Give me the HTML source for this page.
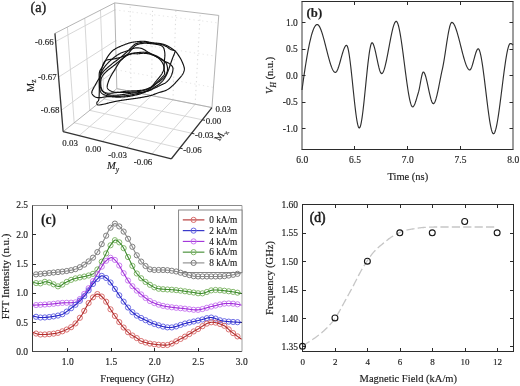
<!DOCTYPE html>
<html><head><meta charset="utf-8"><style>
html,body{margin:0;padding:0;background:#fff;}
svg{display:block;filter:blur(0.3px);}
text{font-family:'Liberation Serif','Times New Roman',serif;stroke:#1e1e1e;stroke-width:0.16px;}
</style></head><body>
<svg width="520" height="386" viewBox="0 0 520 386">
<rect width="520" height="386" fill="#fff"/>
<path d="M302.00,89.98L302.42,86.85L302.85,83.76L303.27,80.72L303.69,77.74L304.11,74.82L304.54,71.95L304.96,69.15L305.38,66.41L305.81,63.73L306.23,61.13L306.65,58.59L307.07,56.13L307.50,53.73L307.92,51.42L308.34,49.19L308.77,47.03L309.19,44.96L309.61,42.98L310.03,41.09L310.46,39.28L310.88,37.57L311.30,35.95L311.73,34.43L312.15,33.01L312.57,31.69L312.99,30.47L313.42,29.36L313.84,28.36L314.26,27.47L314.69,26.69L315.11,26.03L315.53,25.48L315.95,25.05L316.38,24.75L316.80,24.57L317.22,24.51L317.65,24.60L318.07,24.84L318.49,25.21L318.91,25.72L319.34,26.36L319.76,27.12L320.18,27.99L320.61,28.96L321.03,30.03L321.45,31.19L321.87,32.43L322.30,33.75L322.72,35.14L323.14,36.58L323.57,38.08L323.99,39.63L324.41,41.22L324.83,42.84L325.26,44.48L325.68,46.14L326.10,47.81L326.53,49.49L326.95,51.16L327.37,52.81L327.79,54.45L328.22,56.06L328.64,57.64L329.06,59.18L329.48,60.67L329.91,62.10L330.33,63.47L330.75,64.78L331.18,66.00L331.60,67.14L332.02,68.19L332.44,69.14L332.87,69.98L333.29,70.71L333.71,71.32L334.14,71.80L334.56,72.14L334.98,72.35L335.40,72.40L335.83,72.25L336.25,71.89L336.67,71.34L337.10,70.60L337.52,69.71L337.94,68.68L338.36,67.52L338.79,66.26L339.21,64.91L339.63,63.48L340.06,62.01L340.48,60.49L340.90,58.96L341.32,57.43L341.75,55.91L342.17,54.42L342.59,52.99L343.02,51.63L343.44,50.35L343.86,49.18L344.28,48.13L344.71,47.22L345.13,46.47L345.55,45.89L345.98,45.50L346.40,45.32L346.82,45.45L347.24,46.08L347.67,47.20L348.09,48.76L348.51,50.73L348.94,53.07L349.36,55.76L349.78,58.74L350.20,61.99L350.63,65.48L351.05,69.15L351.47,72.99L351.90,76.95L352.32,80.99L352.74,85.08L353.16,89.19L353.59,93.27L354.01,97.30L354.43,101.23L354.86,105.03L355.28,108.67L355.70,112.10L356.12,115.29L356.55,118.21L356.97,120.82L357.39,123.08L357.82,124.96L358.24,126.42L358.66,127.42L359.08,127.94L359.51,127.92L359.93,127.37L360.35,126.32L360.78,124.79L361.20,122.84L361.62,120.49L362.04,117.79L362.47,114.77L362.89,111.46L363.31,107.92L363.74,104.16L364.16,100.24L364.58,96.18L365.00,92.03L365.43,87.82L365.85,83.58L366.27,79.37L366.70,75.20L367.12,71.13L367.54,67.18L367.96,63.40L368.39,59.82L368.81,56.48L369.23,53.42L369.66,50.66L370.08,48.26L370.50,46.25L370.92,44.66L371.35,43.53L371.77,42.90L372.19,42.80L372.62,43.09L373.04,43.69L373.46,44.58L373.88,45.72L374.31,47.08L374.73,48.64L375.15,50.35L375.58,52.19L376.00,54.13L376.42,56.13L376.84,58.16L377.27,60.19L377.69,62.19L378.11,64.13L378.54,65.97L378.96,67.69L379.38,69.25L379.80,70.63L380.23,71.78L380.65,72.68L381.07,73.29L381.49,73.59L381.92,73.56L382.34,73.28L382.76,72.75L383.19,72.00L383.61,71.04L384.03,69.88L384.45,68.55L384.88,67.06L385.30,65.41L385.72,63.64L386.15,61.75L386.57,59.76L386.99,57.68L387.41,55.53L387.84,53.33L388.26,51.09L388.68,48.82L389.11,46.54L389.53,44.27L389.95,42.02L390.37,39.81L390.80,37.65L391.22,35.56L391.64,33.55L392.07,31.64L392.49,29.85L392.91,28.18L393.33,26.66L393.76,25.30L394.18,24.11L394.60,23.12L395.03,22.33L395.45,21.76L395.87,21.43L396.29,21.35L396.72,21.58L397.14,22.13L397.56,22.98L397.99,24.11L398.41,25.51L398.83,27.16L399.25,29.04L399.68,31.13L400.10,33.41L400.52,35.88L400.95,38.51L401.37,41.28L401.79,44.17L402.21,47.18L402.64,50.28L403.06,53.45L403.48,56.68L403.91,59.95L404.33,63.24L404.75,66.54L405.17,69.82L405.60,73.07L406.02,76.27L406.44,79.41L406.87,82.47L407.29,85.43L407.71,88.27L408.13,90.97L408.56,93.53L408.98,95.91L409.40,98.11L409.83,100.10L410.25,101.87L410.67,103.40L411.09,104.68L411.52,105.68L411.94,106.39L412.36,106.79L412.79,106.87L413.21,106.67L413.63,106.22L414.05,105.56L414.48,104.72L414.90,103.70L415.32,102.56L415.75,101.30L416.17,99.96L416.59,98.56L417.01,97.12L417.44,95.68L417.86,94.26L418.28,92.89L418.71,91.42L419.13,89.60L419.55,87.50L419.97,85.23L420.40,82.87L420.82,80.52L421.24,78.28L421.67,76.25L422.09,74.51L422.51,73.16L422.93,72.31L423.36,72.03L423.78,72.22L424.20,72.72L424.63,73.49L425.05,74.52L425.47,75.77L425.89,77.21L426.32,78.81L426.74,80.56L427.16,82.41L427.59,84.34L428.01,86.32L428.43,88.32L428.85,90.32L429.28,92.28L429.70,94.18L430.12,95.98L430.55,97.67L430.97,99.20L431.39,100.56L431.81,101.71L432.24,102.63L432.66,103.28L433.08,103.65L433.51,103.69L433.93,103.45L434.35,102.95L434.77,102.21L435.20,101.24L435.62,100.07L436.04,98.72L436.46,97.20L436.89,95.54L437.31,93.74L437.73,91.84L438.16,89.84L438.58,87.78L439.00,85.66L439.42,83.51L439.85,81.35L440.27,79.18L440.69,77.04L441.12,74.95L441.54,72.91L441.96,70.95L442.38,69.09L442.81,67.12L443.23,64.94L443.65,62.60L444.08,60.10L444.50,57.49L444.92,54.80L445.34,52.04L445.77,49.24L446.19,46.45L446.61,43.67L447.04,40.95L447.46,38.30L447.88,35.77L448.30,33.37L448.73,31.13L449.15,29.08L449.57,27.26L450.00,25.68L450.42,24.38L450.84,23.38L451.26,22.72L451.69,22.42L452.11,22.44L452.53,22.63L452.96,22.96L453.38,23.43L453.80,24.03L454.22,24.75L454.65,25.59L455.07,26.54L455.49,27.59L455.92,28.73L456.34,29.96L456.76,31.27L457.18,32.64L457.61,34.09L458.03,35.58L458.45,37.13L458.88,38.72L459.30,40.34L459.72,41.98L460.14,43.65L460.57,45.32L460.99,47.00L461.41,48.68L461.84,50.35L462.26,51.99L462.68,53.61L463.10,55.20L463.53,56.75L463.95,58.24L464.37,59.68L464.80,61.06L465.22,62.37L465.64,63.59L466.06,64.74L466.49,65.79L466.91,66.73L467.33,67.57L467.76,68.30L468.18,68.90L468.60,69.36L469.02,69.70L469.45,69.88L469.87,69.91L470.29,69.66L470.72,69.15L471.14,68.38L471.56,67.41L471.98,66.25L472.41,64.94L472.83,63.52L473.25,62.01L473.68,60.45L474.10,58.86L474.52,57.28L474.94,55.75L475.37,54.29L475.79,52.94L476.21,51.72L476.64,50.67L477.06,49.83L477.48,49.22L477.90,48.87L478.33,48.82L478.75,49.14L479.17,49.82L479.60,50.83L480.02,52.17L480.44,53.80L480.86,55.71L481.29,57.87L481.71,60.26L482.13,62.86L482.56,65.65L482.98,68.61L483.40,71.71L483.82,74.93L484.25,78.26L484.67,81.67L485.09,85.14L485.52,88.65L485.94,92.17L486.36,95.69L486.78,99.18L487.21,102.62L487.63,106.00L488.05,109.28L488.47,112.44L488.90,115.48L489.32,118.36L489.74,121.06L490.17,123.56L490.59,125.84L491.01,127.87L491.43,129.65L491.86,131.13L492.28,132.32L492.70,133.17L493.13,133.67L493.55,133.80L493.97,133.58L494.39,133.05L494.82,132.20L495.24,131.07L495.66,129.68L496.09,128.03L496.51,126.14L496.93,124.04L497.35,121.73L497.78,119.25L498.20,116.59L498.62,113.79L499.05,110.85L499.47,107.79L499.89,104.64L500.31,101.41L500.74,98.11L501.16,94.76L501.58,91.39L502.01,87.99L502.43,84.61L502.85,81.24L503.27,77.91L503.70,74.63L504.12,71.43L504.54,68.31L504.97,65.30L505.39,62.42L505.81,59.67L506.23,57.08L506.66,54.66L507.08,52.43L507.50,50.42L507.93,48.62L508.35,47.07L508.77,45.77L509.19,44.76L509.62,44.03L510.04,43.62L510.46,43.52L510.89,43.57L511.31,43.68L511.73,43.88L512.15,44.17L512.58,44.58L513.00,45.10" fill="none" stroke="#2e2e2e" stroke-width="1.15" stroke-linejoin="round"/>
<path d="M301.50,1.50H513.50" stroke="#2b2b2b" stroke-width="1.0" fill="none"/>
<path d="M301.50,149.50H513.50" stroke="#2b2b2b" stroke-width="1.0" fill="none"/>
<path d="M302.00,1.50V149.50" stroke="#3a3a3a" stroke-width="1.0" fill="none"/>
<path d="M513.00,1.50V149.50" stroke="#3a3a3a" stroke-width="1.0" fill="none"/>
<path d="M354.50,149.5v-3.5 M354.50,1.5v3.5 M407.50,149.5v-3.5 M407.50,1.5v3.5 M460.50,149.5v-3.5 M460.50,1.5v3.5 M302.0,128.50h3.5 M513.0,128.50h-3.5 M302.0,102.50h3.5 M513.0,102.50h-3.5 M302.0,75.50h3.5 M513.0,75.50h-3.5 M302.0,49.50h3.5 M513.0,49.50h-3.5 M302.0,22.50h3.5 M513.0,22.50h-3.5" stroke="#2b2b2b" stroke-width="1" fill="none"/>
<text x="302.30" y="162.80" font-size="9.5" text-anchor="middle" fill="#1e1e1e" >6.0</text>
<text x="355.05" y="162.80" font-size="9.5" text-anchor="middle" fill="#1e1e1e" >6.5</text>
<text x="407.80" y="162.80" font-size="9.5" text-anchor="middle" fill="#1e1e1e" >7.0</text>
<text x="460.55" y="162.80" font-size="9.5" text-anchor="middle" fill="#1e1e1e" >7.5</text>
<text x="513.30" y="162.80" font-size="9.5" text-anchor="middle" fill="#1e1e1e" >8.0</text>
<text x="297.80" y="26.00" font-size="9.5" text-anchor="end" fill="#1e1e1e" >1.0</text>
<text x="297.80" y="52.40" font-size="9.5" text-anchor="end" fill="#1e1e1e" >0.5</text>
<text x="297.80" y="78.80" font-size="9.5" text-anchor="end" fill="#1e1e1e" >0.0</text>
<text x="297.80" y="105.20" font-size="9.5" text-anchor="end" fill="#1e1e1e" >-0.5</text>
<text x="297.80" y="131.60" font-size="9.5" text-anchor="end" fill="#1e1e1e" >-1.0</text>
<text x="407.80" y="179.80" font-size="10.5" text-anchor="middle" fill="#1e1e1e" >Time (ns)</text>
<text transform="translate(273.2,75.4) rotate(-90)" font-size="10.5" text-anchor="middle" fill="#1e1e1e"><tspan font-style="italic">V</tspan><tspan font-style="italic" font-size="7.5" dy="2.5">H</tspan><tspan dy="-2.5"> (n.u.)</tspan></text>
<text x="306.60" y="16.50" font-size="12.8" text-anchor="start" font-weight="bold" fill="#1e1e1e" >(b)</text>
<path d="M302.50,345.73L303.15,345.37L303.80,345.00L304.45,344.62L305.10,344.24L305.75,343.85L306.41,343.46L307.06,343.06L307.71,342.66L308.36,342.25L309.01,341.84L309.66,341.42L310.31,341.00L310.96,340.57L311.61,340.14L312.26,339.70L312.92,339.26L313.57,338.82L314.22,338.37L314.87,337.92L315.52,337.47L316.17,337.00L316.82,336.54L317.47,336.06L318.12,335.57L318.77,335.08L319.43,334.57L320.08,334.06L320.73,333.53L321.38,332.99L322.03,332.43L322.68,331.86L323.33,331.29L323.98,330.69L324.63,330.09L325.28,329.47L325.93,328.84L326.59,328.20L327.24,327.54L327.89,326.87L328.54,326.19L329.19,325.50L329.84,324.79L330.49,324.08L331.14,323.34L331.79,322.58L332.44,321.80L333.10,320.99L333.75,320.14L334.40,319.27L335.05,318.35L335.70,317.40L336.35,316.40L337.00,315.36L337.65,314.29L338.30,313.18L338.95,312.06L339.61,310.90L340.26,309.73L340.91,308.55L341.56,307.35L342.21,306.14L342.86,304.93L343.51,303.72L344.16,302.52L344.81,301.32L345.46,300.13L346.11,298.96L346.77,297.79L347.42,296.61L348.07,295.43L348.72,294.24L349.37,293.05L350.02,291.86L350.67,290.66L351.32,289.45L351.97,288.25L352.62,287.04L353.28,285.82L353.93,284.58L354.58,283.31L355.23,282.04L355.88,280.76L356.53,279.47L357.18,278.18L357.83,276.90L358.48,275.64L359.13,274.38L359.79,273.15L360.44,271.95L361.09,270.77L361.74,269.63L362.39,268.53L363.04,267.46L363.69,266.39L364.34,265.33L364.99,264.29L365.64,263.25L366.30,262.23L366.95,261.23L367.60,260.25L368.25,259.28L368.90,258.34L369.55,257.41L370.20,256.51L370.85,255.64L371.50,254.79L372.15,253.97L372.80,253.18L373.46,252.42L374.11,251.69L374.76,250.98L375.41,250.30L376.06,249.63L376.71,248.99L377.36,248.36L378.01,247.75L378.66,247.16L379.31,246.57L379.97,245.99L380.62,245.44L381.27,244.90L381.92,244.39L382.57,243.88L383.22,243.37L383.87,242.85L384.52,242.33L385.17,241.79L385.82,241.25L386.48,240.71L387.13,240.17L387.78,239.64L388.43,239.13L389.08,238.64L389.73,238.17L390.38,237.73L391.03,237.32L391.68,236.92L392.33,236.53L392.98,236.14L393.64,235.75L394.29,235.38L394.94,235.00L395.59,234.64L396.24,234.28L396.89,233.93L397.54,233.58L398.19,233.25L398.84,232.93L399.49,232.62L400.15,232.32L400.80,232.03L401.45,231.76L402.10,231.49L402.75,231.25L403.40,231.02L404.05,230.80L404.70,230.60L405.35,230.42L406.00,230.25L406.66,230.09L407.31,229.94L407.96,229.80L408.61,229.67L409.26,229.55L409.91,229.43L410.56,229.31L411.21,229.20L411.86,229.09L412.51,228.99L413.16,228.88L413.82,228.78L414.47,228.67L415.12,228.56L415.77,228.46L416.42,228.35L417.07,228.25L417.72,228.15L418.37,228.05L419.02,227.96L419.67,227.87L420.33,227.79L420.98,227.71L421.63,227.64L422.28,227.58L422.93,227.52L423.58,227.48L424.23,227.44L424.88,227.40L425.53,227.36L426.18,227.32L426.84,227.28L427.49,227.24L428.14,227.21L428.79,227.18L429.44,227.15L430.09,227.12L430.74,227.09L431.39,227.07L432.04,227.05L432.69,227.04L433.34,227.03L434.00,227.02L434.65,227.02L435.30,227.02L435.95,227.02L436.60,227.02L437.25,227.02L437.90,227.02L438.55,227.02L439.20,227.02L439.85,227.02L440.51,227.02L441.16,227.02L441.81,227.02L442.46,227.02L443.11,227.02L443.76,227.02L444.41,227.02L445.06,227.02L445.71,227.02L446.36,227.02L447.02,227.02L447.67,227.02L448.32,227.02L448.97,227.02L449.62,227.02L450.27,227.02L450.92,227.02L451.57,227.02L452.22,227.02L452.87,227.02L453.53,227.02L454.18,227.02L454.83,227.02L455.48,227.02L456.13,227.02L456.78,227.02L457.43,227.02L458.08,227.02L458.73,227.02L459.38,227.02L460.03,227.02L460.69,227.02L461.34,227.02L461.99,227.02L462.64,227.02L463.29,227.02L463.94,227.02L464.59,227.02L465.24,227.02L465.89,227.02L466.54,227.02L467.20,227.02L467.85,227.02L468.50,227.02L469.15,227.02L469.80,227.02L470.45,227.02L471.10,227.02L471.75,227.02L472.40,227.02L473.05,227.02L473.71,227.02L474.36,227.02L475.01,227.02L475.66,227.02L476.31,227.02L476.96,227.02L477.61,227.02L478.26,227.02L478.91,227.02L479.56,227.02L480.21,227.02L480.87,227.02L481.52,227.02L482.17,227.02L482.82,227.02L483.47,227.02L484.12,227.02L484.77,227.02L485.42,227.02L486.07,227.02L486.72,227.02L487.38,227.02L488.03,227.02L488.68,227.02L489.33,227.02L489.98,227.02L490.63,227.02L491.28,227.02L491.93,227.02L492.58,227.02L493.23,227.02L493.89,227.02L494.54,227.02L495.19,227.02L495.84,227.02L496.49,227.02L497.14,227.02" fill="none" stroke="#c6c6c6" stroke-width="1.3" stroke-dasharray="8.2,3.2"/>
<path d="M302.00,204.50H514.00" stroke="#2b2b2b" stroke-width="1.0" fill="none"/>
<path d="M302.00,351.50H514.00" stroke="#2b2b2b" stroke-width="1.0" fill="none"/>
<path d="M302.50,204.50V351.50" stroke="#2b2b2b" stroke-width="1.0" fill="none"/>
<path d="M513.50,204.50V351.50" stroke="#2b2b2b" stroke-width="1.0" fill="none"/>
<path d="M335.50,351.5v-3.5 M335.50,204.5v3.5 M367.50,351.5v-3.5 M367.50,204.5v3.5 M400.50,351.5v-3.5 M400.50,204.5v3.5 M432.50,351.5v-3.5 M432.50,204.5v3.5 M465.50,351.5v-3.5 M465.50,204.5v3.5 M497.50,351.5v-3.5 M497.50,204.5v3.5 M302.5,346.50h3.5 M513.5,346.50h-3.5 M302.5,318.50h3.5 M513.5,318.50h-3.5 M302.5,290.50h3.5 M513.5,290.50h-3.5 M302.5,261.50h3.5 M513.5,261.50h-3.5 M302.5,233.50h3.5 M513.5,233.50h-3.5" stroke="#2b2b2b" stroke-width="1" fill="none"/>
<circle cx="302.50" cy="346.30" r="2.95" fill="none" stroke="#151515" stroke-width="1.1"/>
<circle cx="334.94" cy="317.94" r="2.95" fill="none" stroke="#151515" stroke-width="1.1"/>
<circle cx="367.38" cy="261.22" r="2.95" fill="none" stroke="#151515" stroke-width="1.1"/>
<circle cx="399.82" cy="232.86" r="2.95" fill="none" stroke="#151515" stroke-width="1.1"/>
<circle cx="432.26" cy="232.86" r="2.95" fill="none" stroke="#151515" stroke-width="1.1"/>
<circle cx="464.70" cy="221.52" r="2.95" fill="none" stroke="#151515" stroke-width="1.1"/>
<circle cx="497.14" cy="232.86" r="2.95" fill="none" stroke="#151515" stroke-width="1.1"/>
<text x="302.80" y="365.40" font-size="9.0" text-anchor="middle" fill="#1e1e1e" >0</text>
<text x="335.24" y="365.40" font-size="9.0" text-anchor="middle" fill="#1e1e1e" >2</text>
<text x="367.68" y="365.40" font-size="9.0" text-anchor="middle" fill="#1e1e1e" >4</text>
<text x="400.12" y="365.40" font-size="9.0" text-anchor="middle" fill="#1e1e1e" >6</text>
<text x="432.56" y="365.40" font-size="9.0" text-anchor="middle" fill="#1e1e1e" >8</text>
<text x="465.00" y="365.40" font-size="9.0" text-anchor="middle" fill="#1e1e1e" >10</text>
<text x="497.44" y="365.40" font-size="9.0" text-anchor="middle" fill="#1e1e1e" >12</text>
<text x="298.00" y="349.90" font-size="9.5" text-anchor="end" fill="#1e1e1e" >1.35</text>
<text x="298.00" y="321.54" font-size="9.5" text-anchor="end" fill="#1e1e1e" >1.40</text>
<text x="298.00" y="293.18" font-size="9.5" text-anchor="end" fill="#1e1e1e" >1.45</text>
<text x="298.00" y="264.82" font-size="9.5" text-anchor="end" fill="#1e1e1e" >1.50</text>
<text x="298.00" y="236.46" font-size="9.5" text-anchor="end" fill="#1e1e1e" >1.55</text>
<text x="298.00" y="208.10" font-size="9.5" text-anchor="end" fill="#1e1e1e" >1.60</text>
<text x="408.30" y="381.80" font-size="10.5" text-anchor="middle" fill="#1e1e1e" >Magnetic Field (kA/m)</text>
<text transform="translate(272.6,278) rotate(-90)" font-size="10.5" text-anchor="middle" fill="#1e1e1e">Frequency (GHz)</text>
<text x="309.80" y="221.60" font-size="13.6" text-anchor="start" fill="#1e1e1e" style="stroke-width:0.6px">(d)</text>
<path d="M32.00,205.50H242.00" stroke="#8a8a8a" stroke-width="1.0" fill="none"/>
<path d="M32.00,351.50H242.00" stroke="#4a4a4a" stroke-width="1.0" fill="none"/>
<path d="M32.50,205.50V351.50" stroke="#3a3a3a" stroke-width="1.0" fill="none"/>
<path d="M242.00,205.50V351.50" stroke="#a0a0a0" stroke-width="1.0" fill="none"/>
<path d="M67.50,351.5v-3.5 M67.50,205.5v3.5 M111.50,351.5v-3.5 M111.50,205.5v3.5 M154.50,351.5v-3.5 M154.50,205.5v3.5 M198.50,351.5v-3.5 M198.50,205.5v3.5 M32.5,322.50h3.5 M242.0,322.50h-3.5 M32.5,293.50h3.5 M242.0,293.50h-3.5 M32.5,264.50h3.5 M242.0,264.50h-3.5 M32.5,234.50h3.5 M242.0,234.50h-3.5" stroke="#2b2b2b" stroke-width="1" fill="none"/>
<rect x="178.6" y="210.0" width="63.4" height="62.5" fill="#fff" stroke="#7a7a7a" stroke-width="0.9"/>
<path d="M182.8,219.90H204.4" stroke="#b02c2c" stroke-width="1.1"/><circle cx="193.6" cy="219.90" r="2.6" fill="none" stroke="#d86a6a" stroke-width="1"/>
<text x="209.20" y="223.20" font-size="9.3" text-anchor="start" fill="#1e1e1e" >0 kA/m</text>
<path d="M182.8,230.65H204.4" stroke="#2424c4" stroke-width="1.1"/><circle cx="193.6" cy="230.65" r="2.6" fill="none" stroke="#6464e4" stroke-width="1"/>
<text x="209.20" y="233.95" font-size="9.3" text-anchor="start" fill="#1e1e1e" >2 kA/m</text>
<path d="M182.8,241.40H204.4" stroke="#a02ed8" stroke-width="1.1"/><circle cx="193.6" cy="241.40" r="2.6" fill="none" stroke="#c878f0" stroke-width="1"/>
<text x="209.20" y="244.70" font-size="9.3" text-anchor="start" fill="#1e1e1e" >4 kA/m</text>
<path d="M182.8,252.15H204.4" stroke="#3e8a2e" stroke-width="1.1"/><circle cx="193.6" cy="252.15" r="2.6" fill="none" stroke="#7cb464" stroke-width="1"/>
<text x="209.20" y="255.45" font-size="9.3" text-anchor="start" fill="#1e1e1e" >6 kA/m</text>
<path d="M182.8,262.90H204.4" stroke="#8a8a8a" stroke-width="1.1"/><circle cx="193.6" cy="262.90" r="2.6" fill="none" stroke="#787878" stroke-width="1"/>
<text x="209.20" y="266.20" font-size="9.3" text-anchor="start" fill="#1e1e1e" >8 kA/m</text>
<g fill="none" stroke="#787878" stroke-width="0.95"><circle cx="36.08" cy="274.36" r="2.6"/><circle cx="40.46" cy="273.94" r="2.6"/><circle cx="44.84" cy="273.48" r="2.6"/><circle cx="49.22" cy="273.00" r="2.6"/><circle cx="53.59" cy="272.53" r="2.6"/><circle cx="57.97" cy="272.08" r="2.6"/><circle cx="62.35" cy="271.60" r="2.6"/><circle cx="66.73" cy="271.01" r="2.6"/><circle cx="71.11" cy="270.24" r="2.6"/><circle cx="75.48" cy="269.10" r="2.6"/><circle cx="79.86" cy="267.22" r="2.6"/><circle cx="84.24" cy="264.63" r="2.6"/><circle cx="88.62" cy="261.41" r="2.6"/><circle cx="93.00" cy="257.64" r="2.6"/><circle cx="97.38" cy="252.08" r="2.6"/><circle cx="101.75" cy="244.14" r="2.6"/><circle cx="106.13" cy="235.67" r="2.6"/><circle cx="110.51" cy="227.72" r="2.6"/><circle cx="114.89" cy="223.60" r="2.6"/><circle cx="119.27" cy="226.44" r="2.6"/><circle cx="123.64" cy="231.59" r="2.6"/><circle cx="128.02" cy="238.79" r="2.6"/><circle cx="132.40" cy="246.83" r="2.6"/><circle cx="136.78" cy="255.29" r="2.6"/><circle cx="141.16" cy="261.58" r="2.6"/><circle cx="145.53" cy="266.00" r="2.6"/><circle cx="149.91" cy="269.35" r="2.6"/><circle cx="154.29" cy="269.98" r="2.6"/><circle cx="158.67" cy="269.98" r="2.6"/><circle cx="163.05" cy="269.98" r="2.6"/><circle cx="167.42" cy="270.20" r="2.6"/><circle cx="171.80" cy="270.76" r="2.6"/><circle cx="176.18" cy="271.49" r="2.6"/><circle cx="180.56" cy="272.70" r="2.6"/><circle cx="184.94" cy="273.97" r="2.6"/><circle cx="189.32" cy="275.14" r="2.6"/><circle cx="193.69" cy="276.19" r="2.6"/><circle cx="198.07" cy="276.44" r="2.6"/><circle cx="202.45" cy="276.44" r="2.6"/><circle cx="206.83" cy="276.44" r="2.6"/><circle cx="211.21" cy="276.44" r="2.6"/><circle cx="215.58" cy="276.44" r="2.6"/><circle cx="219.96" cy="276.42" r="2.6"/><circle cx="224.34" cy="276.14" r="2.6"/><circle cx="228.72" cy="275.57" r="2.6"/><circle cx="233.10" cy="274.78" r="2.6"/><circle cx="237.47" cy="273.84" r="2.6"/></g>
<path d="M32.60,274.68L33.12,274.63L33.65,274.58L34.17,274.54L34.69,274.49L35.22,274.44L35.74,274.39L36.26,274.34L36.79,274.29L37.31,274.24L37.84,274.19L38.36,274.14L38.88,274.09L39.41,274.04L39.93,273.99L40.45,273.94L40.98,273.88L41.50,273.83L42.02,273.78L42.55,273.72L43.07,273.67L43.59,273.62L44.12,273.56L44.64,273.51L45.17,273.45L45.69,273.39L46.21,273.34L46.74,273.28L47.26,273.22L47.78,273.16L48.31,273.11L48.83,273.05L49.35,272.99L49.88,272.93L50.40,272.87L50.92,272.81L51.45,272.76L51.97,272.70L52.49,272.64L53.02,272.59L53.54,272.54L54.07,272.48L54.59,272.43L55.11,272.38L55.64,272.32L56.16,272.27L56.68,272.22L57.21,272.16L57.73,272.11L58.25,272.06L58.78,272.00L59.30,271.95L59.82,271.89L60.35,271.83L60.87,271.77L61.40,271.71L61.92,271.65L62.44,271.59L62.97,271.53L63.49,271.46L64.01,271.39L64.54,271.32L65.06,271.25L65.58,271.18L66.11,271.10L66.63,271.03L67.15,270.94L67.68,270.86L68.20,270.78L68.72,270.69L69.25,270.60L69.77,270.50L70.30,270.40L70.82,270.30L71.34,270.20L71.87,270.09L72.39,269.98L72.91,269.86L73.44,269.73L73.96,269.58L74.48,269.43L75.01,269.26L75.53,269.09L76.05,268.90L76.58,268.70L77.10,268.49L77.63,268.27L78.15,268.04L78.67,267.80L79.20,267.55L79.72,267.29L80.24,267.02L80.77,266.74L81.29,266.45L81.81,266.15L82.34,265.84L82.86,265.52L83.38,265.19L83.91,264.85L84.43,264.50L84.95,264.15L85.48,263.78L86.00,263.41L86.53,263.03L87.05,262.63L87.57,262.24L88.10,261.83L88.62,261.41L89.14,260.99L89.67,260.56L90.19,260.12L90.71,259.67L91.24,259.22L91.76,258.75L92.28,258.29L92.81,257.81L93.33,257.33L93.86,256.83L94.38,256.28L94.90,255.66L95.43,254.99L95.95,254.27L96.47,253.50L97.00,252.69L97.52,251.84L98.04,250.96L98.57,250.05L99.09,249.11L99.61,248.16L100.14,247.19L100.66,246.20L101.18,245.22L101.71,244.23L102.23,243.24L102.76,242.26L103.28,241.29L103.80,240.34L104.33,239.38L104.85,238.36L105.37,237.28L105.90,236.17L106.42,235.04L106.94,233.92L107.47,232.81L107.99,231.75L108.51,230.74L109.04,229.81L109.56,228.98L110.09,228.26L110.61,227.59L111.13,226.90L111.66,226.23L112.18,225.58L112.70,224.99L113.23,224.47L113.75,224.06L114.27,223.76L114.80,223.61L115.32,223.61L115.84,223.74L116.37,223.97L116.89,224.28L117.41,224.68L117.94,225.13L118.46,225.62L118.99,226.15L119.51,226.69L120.03,227.22L120.56,227.75L121.08,228.29L121.60,228.88L122.13,229.52L122.65,230.19L123.17,230.91L123.70,231.67L124.22,232.45L124.74,233.27L125.27,234.10L125.79,234.96L126.32,235.84L126.84,236.73L127.36,237.64L127.89,238.55L128.41,239.47L128.93,240.38L129.46,241.29L129.98,242.20L130.50,243.12L131.03,244.09L131.55,245.11L132.07,246.16L132.60,247.24L133.12,248.32L133.64,249.40L134.17,250.48L134.69,251.53L135.22,252.55L135.74,253.52L136.26,254.44L136.79,255.30L137.31,256.11L137.83,256.92L138.36,257.71L138.88,258.48L139.40,259.24L139.93,259.97L140.45,260.68L140.97,261.36L141.50,262.00L142.02,262.61L142.55,263.18L143.07,263.71L143.59,264.20L144.12,264.68L144.64,265.16L145.16,265.65L145.69,266.14L146.21,266.61L146.73,267.08L147.26,267.52L147.78,267.95L148.30,268.35L148.83,268.71L149.35,269.04L149.87,269.33L150.40,269.57L150.92,269.76L151.45,269.89L151.97,269.97L152.49,269.98L153.02,269.98L153.54,269.98L154.06,269.98L154.59,269.98L155.11,269.98L155.63,269.98L156.16,269.98L156.68,269.98L157.20,269.98L157.73,269.98L158.25,269.98L158.78,269.98L159.30,269.98L159.82,269.98L160.35,269.98L160.87,269.98L161.39,269.98L161.92,269.98L162.44,269.98L162.96,269.98L163.49,269.98L164.01,269.99L164.53,270.00L165.06,270.02L165.58,270.05L166.10,270.08L166.63,270.13L167.15,270.17L167.68,270.22L168.20,270.28L168.72,270.34L169.25,270.40L169.77,270.47L170.29,270.54L170.82,270.62L171.34,270.69L171.86,270.77L172.39,270.85L172.91,270.93L173.43,271.01L173.96,271.09L174.48,271.17L175.01,271.26L175.53,271.36L176.05,271.47L176.58,271.58L177.10,271.71L177.62,271.85L178.15,271.99L178.67,272.14L179.19,272.29L179.72,272.45L180.24,272.60L180.76,272.76L181.29,272.92L181.81,273.08L182.33,273.24L182.86,273.40L183.38,273.55L183.91,273.69L184.43,273.84L184.95,273.97L185.48,274.10L186.00,274.23L186.52,274.36L187.05,274.50L187.57,274.64L188.09,274.79L188.62,274.94L189.14,275.09L189.66,275.24L190.19,275.38L190.71,275.52L191.24,275.66L191.76,275.79L192.28,275.91L192.81,276.02L193.33,276.12L193.85,276.21L194.38,276.29L194.90,276.35L195.42,276.40L195.95,276.43L196.47,276.44L196.99,276.44L197.52,276.44L198.04,276.44L198.56,276.44L199.09,276.44L199.61,276.44L200.14,276.44L200.66,276.44L201.18,276.44L201.71,276.44L202.23,276.44L202.75,276.44L203.28,276.44L203.80,276.44L204.32,276.44L204.85,276.44L205.37,276.44L205.89,276.44L206.42,276.44L206.94,276.44L207.47,276.44L207.99,276.44L208.51,276.44L209.04,276.44L209.56,276.44L210.08,276.44L210.61,276.44L211.13,276.44L211.65,276.44L212.18,276.44L212.70,276.44L213.22,276.44L213.75,276.44L214.27,276.44L214.80,276.44L215.32,276.44L215.84,276.44L216.37,276.44L216.89,276.44L217.41,276.44L217.94,276.44L218.46,276.44L218.98,276.44L219.51,276.43L220.03,276.42L220.55,276.40L221.08,276.38L221.60,276.36L222.12,276.33L222.65,276.29L223.17,276.25L223.70,276.20L224.22,276.15L224.74,276.10L225.27,276.04L225.79,275.98L226.31,275.92L226.84,275.85L227.36,275.77L227.88,275.70L228.41,275.62L228.93,275.54L229.45,275.45L229.98,275.36L230.50,275.27L231.03,275.17L231.55,275.08L232.07,274.98L232.60,274.88L233.12,274.77L233.64,274.67L234.17,274.56L234.69,274.45L235.21,274.34L235.74,274.22L236.26,274.11L236.78,273.99L237.31,273.88L237.83,273.76L238.35,273.64L238.88,273.52L239.40,273.40L239.93,273.28L240.45,273.16L240.97,273.04L241.50,272.92" fill="none" stroke="#8a8a8a" stroke-width="1.1"/>
<g fill="none" stroke="#7cb464" stroke-width="0.95"><circle cx="36.08" cy="283.08" r="2.6"/><circle cx="40.46" cy="283.38" r="2.6"/><circle cx="44.84" cy="281.81" r="2.6"/><circle cx="49.22" cy="282.53" r="2.6"/><circle cx="53.59" cy="284.33" r="2.6"/><circle cx="57.97" cy="286.35" r="2.6"/><circle cx="62.35" cy="284.61" r="2.6"/><circle cx="66.73" cy="281.91" r="2.6"/><circle cx="71.11" cy="279.86" r="2.6"/><circle cx="75.48" cy="278.41" r="2.6"/><circle cx="79.86" cy="277.44" r="2.6"/><circle cx="84.24" cy="276.58" r="2.6"/><circle cx="88.62" cy="275.49" r="2.6"/><circle cx="93.00" cy="273.81" r="2.6"/><circle cx="97.38" cy="269.47" r="2.6"/><circle cx="101.75" cy="261.69" r="2.6"/><circle cx="106.13" cy="253.39" r="2.6"/><circle cx="110.51" cy="245.29" r="2.6"/><circle cx="114.89" cy="240.20" r="2.6"/><circle cx="119.27" cy="242.34" r="2.6"/><circle cx="123.64" cy="248.17" r="2.6"/><circle cx="128.02" cy="257.04" r="2.6"/><circle cx="132.40" cy="265.90" r="2.6"/><circle cx="136.78" cy="273.49" r="2.6"/><circle cx="141.16" cy="278.27" r="2.6"/><circle cx="145.53" cy="281.93" r="2.6"/><circle cx="149.91" cy="284.79" r="2.6"/><circle cx="154.29" cy="287.29" r="2.6"/><circle cx="158.67" cy="288.75" r="2.6"/><circle cx="163.05" cy="289.21" r="2.6"/><circle cx="167.42" cy="289.48" r="2.6"/><circle cx="171.80" cy="289.73" r="2.6"/><circle cx="176.18" cy="290.13" r="2.6"/><circle cx="180.56" cy="290.67" r="2.6"/><circle cx="184.94" cy="291.28" r="2.6"/><circle cx="189.32" cy="291.92" r="2.6"/><circle cx="193.69" cy="292.54" r="2.6"/><circle cx="198.07" cy="293.26" r="2.6"/><circle cx="202.45" cy="293.34" r="2.6"/><circle cx="206.83" cy="291.99" r="2.6"/><circle cx="211.21" cy="290.39" r="2.6"/><circle cx="215.58" cy="289.97" r="2.6"/><circle cx="219.96" cy="290.25" r="2.6"/><circle cx="224.34" cy="290.74" r="2.6"/><circle cx="228.72" cy="291.27" r="2.6"/><circle cx="233.10" cy="291.90" r="2.6"/><circle cx="237.47" cy="292.67" r="2.6"/></g>
<path d="M32.60,281.72L33.12,281.99L33.65,282.24L34.17,282.46L34.69,282.66L35.22,282.84L35.74,282.99L36.26,283.12L36.79,283.23L37.31,283.32L37.84,283.39L38.36,283.44L38.88,283.47L39.41,283.48L39.93,283.47L40.45,283.38L40.98,283.24L41.50,283.06L42.02,282.85L42.55,282.63L43.07,282.41L43.59,282.19L44.12,282.00L44.64,281.85L45.17,281.76L45.69,281.72L46.21,281.75L46.74,281.82L47.26,281.92L47.78,282.05L48.31,282.21L48.83,282.39L49.35,282.58L49.88,282.78L50.40,282.98L50.92,283.19L51.45,283.38L51.97,283.56L52.49,283.78L53.02,284.03L53.54,284.31L54.07,284.60L54.59,284.89L55.11,285.19L55.64,285.47L56.16,285.73L56.68,285.96L57.21,286.16L57.73,286.30L58.25,286.39L58.78,286.42L59.30,286.36L59.82,286.20L60.35,285.96L60.87,285.66L61.40,285.32L61.92,284.93L62.44,284.53L62.97,284.13L63.49,283.74L64.01,283.37L64.54,283.04L65.06,282.77L65.58,282.49L66.11,282.23L66.63,281.96L67.15,281.69L67.68,281.43L68.20,281.18L68.72,280.92L69.25,280.68L69.77,280.44L70.30,280.21L70.82,279.98L71.34,279.77L71.87,279.56L72.39,279.37L72.91,279.19L73.44,279.01L73.96,278.85L74.48,278.69L75.01,278.54L75.53,278.40L76.05,278.27L76.58,278.14L77.10,278.02L77.63,277.90L78.15,277.78L78.67,277.67L79.20,277.57L79.72,277.46L80.24,277.36L80.77,277.26L81.29,277.16L81.81,277.06L82.34,276.96L82.86,276.86L83.38,276.75L83.91,276.65L84.43,276.54L84.95,276.43L85.48,276.31L86.00,276.19L86.53,276.06L87.05,275.93L87.57,275.79L88.10,275.64L88.62,275.49L89.14,275.32L89.67,275.15L90.19,274.97L90.71,274.78L91.24,274.58L91.76,274.36L92.28,274.14L92.81,273.90L93.33,273.64L93.86,273.37L94.38,273.01L94.90,272.57L95.43,272.04L95.95,271.44L96.47,270.77L97.00,270.04L97.52,269.25L98.04,268.42L98.57,267.54L99.09,266.63L99.61,265.69L100.14,264.72L100.66,263.75L101.18,262.76L101.71,261.78L102.23,260.79L102.76,259.82L103.28,258.87L103.80,257.94L104.33,257.02L104.85,256.03L105.37,254.98L105.90,253.89L106.42,252.77L106.94,251.66L107.47,250.55L107.99,249.48L108.51,248.46L109.04,247.51L109.56,246.64L110.09,245.88L110.61,245.15L111.13,244.39L111.66,243.64L112.18,242.90L112.70,242.21L113.23,241.58L113.75,241.02L114.27,240.57L114.80,240.25L115.32,240.06L115.84,240.04L116.37,240.15L116.89,240.37L117.41,240.68L117.94,241.07L118.46,241.53L118.99,242.05L119.51,242.60L120.03,243.19L120.56,243.79L121.08,244.39L121.60,244.99L122.13,245.68L122.65,246.46L123.17,247.33L123.70,248.26L124.22,249.26L124.74,250.30L125.27,251.37L125.79,252.47L126.32,253.57L126.84,254.66L127.36,255.73L127.89,256.77L128.41,257.77L128.93,258.77L129.46,259.81L129.98,260.87L130.50,261.95L131.03,263.04L131.55,264.14L132.07,265.23L132.60,266.30L133.12,267.36L133.64,268.38L134.17,269.37L134.69,270.32L135.22,271.21L135.74,272.05L136.26,272.81L136.79,273.50L137.31,274.14L137.83,274.76L138.36,275.36L138.88,275.94L139.40,276.51L139.93,277.05L140.45,277.58L140.97,278.10L141.50,278.59L142.02,279.08L142.55,279.54L143.07,279.99L143.59,280.43L144.12,280.85L144.64,281.26L145.16,281.65L145.69,282.04L146.21,282.41L146.73,282.76L147.26,283.11L147.78,283.45L148.30,283.78L148.83,284.11L149.35,284.44L149.87,284.77L150.40,285.10L150.92,285.42L151.45,285.73L151.97,286.04L152.49,286.34L153.02,286.64L153.54,286.92L154.06,287.18L154.59,287.43L155.11,287.67L155.63,287.89L156.16,288.09L156.68,288.27L157.20,288.43L157.73,288.57L158.25,288.68L158.78,288.77L159.30,288.83L159.82,288.90L160.35,288.96L160.87,289.01L161.39,289.07L161.92,289.11L162.44,289.16L162.96,289.20L163.49,289.24L164.01,289.28L164.53,289.31L165.06,289.35L165.58,289.38L166.10,289.41L166.63,289.44L167.15,289.47L167.68,289.49L168.20,289.52L168.72,289.55L169.25,289.58L169.77,289.61L170.29,289.64L170.82,289.67L171.34,289.70L171.86,289.74L172.39,289.78L172.91,289.82L173.43,289.86L173.96,289.90L174.48,289.95L175.01,290.00L175.53,290.06L176.05,290.11L176.58,290.17L177.10,290.23L177.62,290.29L178.15,290.36L178.67,290.42L179.19,290.49L179.72,290.56L180.24,290.62L180.76,290.70L181.29,290.77L181.81,290.84L182.33,290.91L182.86,290.99L183.38,291.06L183.91,291.13L184.43,291.21L184.95,291.29L185.48,291.36L186.00,291.44L186.52,291.51L187.05,291.59L187.57,291.67L188.09,291.74L188.62,291.82L189.14,291.89L189.66,291.96L190.19,292.04L190.71,292.11L191.24,292.18L191.76,292.25L192.28,292.32L192.81,292.40L193.33,292.48L193.85,292.57L194.38,292.66L194.90,292.75L195.42,292.84L195.95,292.93L196.47,293.02L196.99,293.11L197.52,293.19L198.04,293.26L198.56,293.32L199.09,293.38L199.61,293.42L200.14,293.45L200.66,293.46L201.18,293.46L201.71,293.43L202.23,293.37L202.75,293.29L203.28,293.18L203.80,293.04L204.32,292.89L204.85,292.73L205.37,292.54L205.89,292.35L206.42,292.15L206.94,291.95L207.47,291.74L207.99,291.53L208.51,291.32L209.04,291.12L209.56,290.93L210.08,290.74L210.61,290.57L211.13,290.42L211.65,290.28L212.18,290.16L212.70,290.06L213.22,289.99L213.75,289.95L214.27,289.94L214.80,289.95L215.32,289.96L215.84,289.97L216.37,289.99L216.89,290.02L217.41,290.05L217.94,290.08L218.46,290.12L218.98,290.17L219.51,290.21L220.03,290.26L220.55,290.31L221.08,290.37L221.60,290.42L222.12,290.48L222.65,290.54L223.17,290.60L223.70,290.66L224.22,290.73L224.74,290.79L225.27,290.85L225.79,290.92L226.31,290.98L226.84,291.04L227.36,291.10L227.88,291.17L228.41,291.23L228.93,291.29L229.45,291.36L229.98,291.43L230.50,291.51L231.03,291.58L231.55,291.66L232.07,291.74L232.60,291.82L233.12,291.90L233.64,291.99L234.17,292.08L234.69,292.16L235.21,292.25L235.74,292.35L236.26,292.44L236.78,292.54L237.31,292.64L237.83,292.73L238.35,292.84L238.88,292.94L239.40,293.04L239.93,293.15L240.45,293.25L240.97,293.36L241.50,293.47" fill="none" stroke="#3e8a2e" stroke-width="1.1"/>
<g fill="none" stroke="#c878f0" stroke-width="0.95"><circle cx="36.08" cy="305.05" r="2.6"/><circle cx="40.46" cy="304.81" r="2.6"/><circle cx="44.84" cy="304.52" r="2.6"/><circle cx="49.22" cy="304.20" r="2.6"/><circle cx="53.59" cy="303.82" r="2.6"/><circle cx="57.97" cy="303.30" r="2.6"/><circle cx="62.35" cy="302.90" r="2.6"/><circle cx="66.73" cy="302.76" r="2.6"/><circle cx="71.11" cy="302.68" r="2.6"/><circle cx="75.48" cy="302.35" r="2.6"/><circle cx="79.86" cy="299.03" r="2.6"/><circle cx="84.24" cy="293.86" r="2.6"/><circle cx="88.62" cy="288.21" r="2.6"/><circle cx="93.00" cy="281.19" r="2.6"/><circle cx="97.38" cy="273.90" r="2.6"/><circle cx="101.75" cy="266.69" r="2.6"/><circle cx="106.13" cy="260.80" r="2.6"/><circle cx="110.51" cy="257.77" r="2.6"/><circle cx="114.89" cy="259.93" r="2.6"/><circle cx="119.27" cy="265.54" r="2.6"/><circle cx="123.64" cy="273.19" r="2.6"/><circle cx="128.02" cy="280.55" r="2.6"/><circle cx="132.40" cy="286.21" r="2.6"/><circle cx="136.78" cy="290.64" r="2.6"/><circle cx="141.16" cy="294.44" r="2.6"/><circle cx="145.53" cy="297.99" r="2.6"/><circle cx="149.91" cy="301.05" r="2.6"/><circle cx="154.29" cy="303.11" r="2.6"/><circle cx="158.67" cy="304.68" r="2.6"/><circle cx="163.05" cy="305.87" r="2.6"/><circle cx="167.42" cy="306.69" r="2.6"/><circle cx="171.80" cy="307.30" r="2.6"/><circle cx="176.18" cy="307.79" r="2.6"/><circle cx="180.56" cy="308.23" r="2.6"/><circle cx="184.94" cy="308.68" r="2.6"/><circle cx="189.32" cy="309.25" r="2.6"/><circle cx="193.69" cy="309.78" r="2.6"/><circle cx="198.07" cy="309.84" r="2.6"/><circle cx="202.45" cy="309.04" r="2.6"/><circle cx="206.83" cy="307.77" r="2.6"/><circle cx="211.21" cy="306.56" r="2.6"/><circle cx="215.58" cy="305.55" r="2.6"/><circle cx="219.96" cy="304.46" r="2.6"/><circle cx="224.34" cy="303.66" r="2.6"/><circle cx="228.72" cy="303.46" r="2.6"/><circle cx="233.10" cy="303.70" r="2.6"/><circle cx="237.47" cy="304.30" r="2.6"/></g>
<path d="M32.60,305.21L33.12,305.19L33.65,305.17L34.17,305.14L34.69,305.12L35.22,305.10L35.74,305.07L36.26,305.04L36.79,305.02L37.31,304.99L37.84,304.96L38.36,304.93L38.88,304.90L39.41,304.87L39.93,304.84L40.45,304.81L40.98,304.78L41.50,304.74L42.02,304.71L42.55,304.68L43.07,304.64L43.59,304.61L44.12,304.57L44.64,304.53L45.17,304.50L45.69,304.46L46.21,304.42L46.74,304.38L47.26,304.35L47.78,304.31L48.31,304.27L48.83,304.23L49.35,304.19L49.88,304.15L50.40,304.11L50.92,304.07L51.45,304.03L51.97,303.98L52.49,303.93L53.02,303.88L53.54,303.83L54.07,303.77L54.59,303.71L55.11,303.65L55.64,303.58L56.16,303.52L56.68,303.46L57.21,303.39L57.73,303.33L58.25,303.27L58.78,303.21L59.30,303.15L59.82,303.10L60.35,303.05L60.87,303.00L61.40,302.96L61.92,302.92L62.44,302.89L62.97,302.87L63.49,302.85L64.01,302.83L64.54,302.81L65.06,302.80L65.58,302.78L66.11,302.77L66.63,302.76L67.15,302.75L67.68,302.75L68.20,302.74L68.72,302.73L69.25,302.72L69.77,302.71L70.30,302.70L70.82,302.69L71.34,302.68L71.87,302.67L72.39,302.65L72.91,302.63L73.44,302.61L73.96,302.59L74.48,302.56L75.01,302.48L75.53,302.33L76.05,302.12L76.58,301.85L77.10,301.51L77.63,301.13L78.15,300.70L78.67,300.23L79.20,299.72L79.72,299.18L80.24,298.61L80.77,298.02L81.29,297.41L81.81,296.79L82.34,296.16L82.86,295.52L83.38,294.88L83.91,294.25L84.43,293.63L84.95,293.03L85.48,292.43L86.00,291.79L86.53,291.13L87.05,290.44L87.57,289.72L88.10,288.98L88.62,288.21L89.14,287.42L89.67,286.62L90.19,285.80L90.71,284.96L91.24,284.11L91.76,283.25L92.28,282.39L92.81,281.51L93.33,280.63L93.86,279.75L94.38,278.87L94.90,277.99L95.43,277.11L95.95,276.24L96.47,275.37L97.00,274.51L97.52,273.67L98.04,272.84L98.57,272.02L99.09,271.21L99.61,270.36L100.14,269.48L100.66,268.58L101.18,267.67L101.71,266.77L102.23,265.88L102.76,265.02L103.28,264.19L103.80,263.42L104.33,262.70L104.85,262.05L105.37,261.49L105.90,261.01L106.42,260.55L106.94,260.09L107.47,259.64L107.99,259.21L108.51,258.81L109.04,258.46L109.56,258.16L110.09,257.91L110.61,257.75L111.13,257.66L111.66,257.67L112.18,257.80L112.70,258.04L113.23,258.38L113.75,258.80L114.27,259.29L114.80,259.83L115.32,260.41L115.84,261.00L116.37,261.60L116.89,262.19L117.41,262.80L117.94,263.48L118.46,264.25L118.99,265.07L119.51,265.95L120.03,266.86L120.56,267.80L121.08,268.75L121.60,269.70L122.13,270.64L122.65,271.54L123.17,272.41L123.70,273.28L124.22,274.16L124.74,275.05L125.27,275.95L125.79,276.85L126.32,277.75L126.84,278.63L127.36,279.50L127.89,280.34L128.41,281.15L128.93,281.93L129.46,282.67L129.98,283.35L130.50,284.00L131.03,284.63L131.55,285.24L132.07,285.84L132.60,286.43L133.12,287.00L133.64,287.56L134.17,288.10L134.69,288.63L135.22,289.15L135.74,289.66L136.26,290.16L136.79,290.65L137.31,291.13L137.83,291.60L138.36,292.07L138.88,292.52L139.40,292.97L139.93,293.42L140.45,293.86L140.97,294.29L141.50,294.72L142.02,295.15L142.55,295.58L143.07,296.01L143.59,296.44L144.12,296.86L144.64,297.28L145.16,297.70L145.69,298.11L146.21,298.51L146.73,298.90L147.26,299.29L147.78,299.66L148.30,300.02L148.83,300.37L149.35,300.71L149.87,301.03L150.40,301.33L150.92,301.62L151.45,301.89L151.97,302.14L152.49,302.37L153.02,302.59L153.54,302.81L154.06,303.02L154.59,303.23L155.11,303.43L155.63,303.63L156.16,303.82L156.68,304.01L157.20,304.19L157.73,304.37L158.25,304.54L158.78,304.71L159.30,304.87L159.82,305.03L160.35,305.18L160.87,305.32L161.39,305.46L161.92,305.60L162.44,305.73L162.96,305.85L163.49,305.97L164.01,306.08L164.53,306.19L165.06,306.29L165.58,306.38L166.10,306.47L166.63,306.56L167.15,306.65L167.68,306.73L168.20,306.81L168.72,306.89L169.25,306.96L169.77,307.03L170.29,307.11L170.82,307.17L171.34,307.24L171.86,307.31L172.39,307.37L172.91,307.43L173.43,307.49L173.96,307.55L174.48,307.61L175.01,307.67L175.53,307.72L176.05,307.78L176.58,307.83L177.10,307.88L177.62,307.94L178.15,307.99L178.67,308.04L179.19,308.09L179.72,308.15L180.24,308.20L180.76,308.25L181.29,308.30L181.81,308.35L182.33,308.41L182.86,308.46L183.38,308.51L183.91,308.57L184.43,308.62L184.95,308.68L185.48,308.74L186.00,308.80L186.52,308.86L187.05,308.93L187.57,309.00L188.09,309.08L188.62,309.15L189.14,309.22L189.66,309.30L190.19,309.37L190.71,309.44L191.24,309.51L191.76,309.58L192.28,309.64L192.81,309.69L193.33,309.75L193.85,309.79L194.38,309.83L194.90,309.86L195.42,309.89L195.95,309.90L196.47,309.91L196.99,309.90L197.52,309.88L198.04,309.84L198.56,309.79L199.09,309.72L199.61,309.64L200.14,309.55L200.66,309.45L201.18,309.34L201.71,309.22L202.23,309.09L202.75,308.96L203.28,308.82L203.80,308.67L204.32,308.52L204.85,308.37L205.37,308.21L205.89,308.06L206.42,307.90L206.94,307.74L207.47,307.58L207.99,307.42L208.51,307.27L209.04,307.12L209.56,306.98L210.08,306.84L210.61,306.70L211.13,306.58L211.65,306.46L212.18,306.35L212.70,306.23L213.22,306.12L213.75,306.00L214.27,305.87L214.80,305.74L215.32,305.61L215.84,305.48L216.37,305.35L216.89,305.22L217.41,305.08L217.94,304.95L218.46,304.82L218.98,304.70L219.51,304.57L220.03,304.45L220.55,304.33L221.08,304.22L221.60,304.11L222.12,304.01L222.65,303.91L223.17,303.83L223.70,303.75L224.22,303.67L224.74,303.61L225.27,303.56L225.79,303.51L226.31,303.48L226.84,303.46L227.36,303.45L227.88,303.45L228.41,303.46L228.93,303.47L229.45,303.48L229.98,303.50L230.50,303.52L231.03,303.55L231.55,303.58L232.07,303.61L232.60,303.66L233.12,303.70L233.64,303.75L234.17,303.81L234.69,303.87L235.21,303.94L235.74,304.01L236.26,304.09L236.78,304.18L237.31,304.27L237.83,304.36L238.35,304.46L238.88,304.57L239.40,304.69L239.93,304.81L240.45,304.94L240.97,305.07L241.50,305.21" fill="none" stroke="#a02ed8" stroke-width="1.1"/>
<g fill="none" stroke="#6464e4" stroke-width="0.95"><circle cx="36.08" cy="316.79" r="2.6"/><circle cx="40.46" cy="317.52" r="2.6"/><circle cx="44.84" cy="317.44" r="2.6"/><circle cx="49.22" cy="317.04" r="2.6"/><circle cx="53.59" cy="316.40" r="2.6"/><circle cx="57.97" cy="315.56" r="2.6"/><circle cx="62.35" cy="314.25" r="2.6"/><circle cx="66.73" cy="311.58" r="2.6"/><circle cx="71.11" cy="308.24" r="2.6"/><circle cx="75.48" cy="304.78" r="2.6"/><circle cx="79.86" cy="300.77" r="2.6"/><circle cx="84.24" cy="296.18" r="2.6"/><circle cx="88.62" cy="290.38" r="2.6"/><circle cx="93.00" cy="283.95" r="2.6"/><circle cx="97.38" cy="278.98" r="2.6"/><circle cx="101.75" cy="275.87" r="2.6"/><circle cx="106.13" cy="277.98" r="2.6"/><circle cx="110.51" cy="282.47" r="2.6"/><circle cx="114.89" cy="288.94" r="2.6"/><circle cx="119.27" cy="295.31" r="2.6"/><circle cx="123.64" cy="301.66" r="2.6"/><circle cx="128.02" cy="307.53" r="2.6"/><circle cx="132.40" cy="312.14" r="2.6"/><circle cx="136.78" cy="315.63" r="2.6"/><circle cx="141.16" cy="318.01" r="2.6"/><circle cx="145.53" cy="320.18" r="2.6"/><circle cx="149.91" cy="322.27" r="2.6"/><circle cx="154.29" cy="323.95" r="2.6"/><circle cx="158.67" cy="325.32" r="2.6"/><circle cx="163.05" cy="326.57" r="2.6"/><circle cx="167.42" cy="327.38" r="2.6"/><circle cx="171.80" cy="327.41" r="2.6"/><circle cx="176.18" cy="326.43" r="2.6"/><circle cx="180.56" cy="324.94" r="2.6"/><circle cx="184.94" cy="323.54" r="2.6"/><circle cx="189.32" cy="322.50" r="2.6"/><circle cx="193.69" cy="321.52" r="2.6"/><circle cx="198.07" cy="320.54" r="2.6"/><circle cx="202.45" cy="319.49" r="2.6"/><circle cx="206.83" cy="318.16" r="2.6"/><circle cx="211.21" cy="317.55" r="2.6"/><circle cx="215.58" cy="318.59" r="2.6"/><circle cx="219.96" cy="320.29" r="2.6"/><circle cx="224.34" cy="321.20" r="2.6"/><circle cx="228.72" cy="321.62" r="2.6"/><circle cx="233.10" cy="321.96" r="2.6"/><circle cx="237.47" cy="322.17" r="2.6"/></g>
<path d="M32.60,315.78L33.12,315.94L33.65,316.10L34.17,316.26L34.69,316.41L35.22,316.56L35.74,316.70L36.26,316.83L36.79,316.96L37.31,317.08L37.84,317.18L38.36,317.28L38.88,317.36L39.41,317.43L39.93,317.48L40.45,317.52L40.98,317.54L41.50,317.54L42.02,317.54L42.55,317.53L43.07,317.52L43.59,317.50L44.12,317.47L44.64,317.45L45.17,317.42L45.69,317.38L46.21,317.34L46.74,317.30L47.26,317.25L47.78,317.20L48.31,317.14L48.83,317.08L49.35,317.02L49.88,316.96L50.40,316.89L50.92,316.81L51.45,316.74L51.97,316.66L52.49,316.58L53.02,316.49L53.54,316.41L54.07,316.31L54.59,316.22L55.11,316.13L55.64,316.03L56.16,315.93L56.68,315.82L57.21,315.72L57.73,315.61L58.25,315.50L58.78,315.39L59.30,315.27L59.82,315.16L60.35,315.02L60.87,314.85L61.40,314.66L61.92,314.45L62.44,314.21L62.97,313.95L63.49,313.67L64.01,313.37L64.54,313.05L65.06,312.72L65.58,312.37L66.11,312.02L66.63,311.65L67.15,311.27L67.68,310.88L68.20,310.48L68.72,310.08L69.25,309.68L69.77,309.27L70.30,308.87L70.82,308.46L71.34,308.06L71.87,307.65L72.39,307.26L72.91,306.86L73.44,306.45L73.96,306.04L74.48,305.61L75.01,305.18L75.53,304.74L76.05,304.29L76.58,303.83L77.10,303.36L77.63,302.89L78.15,302.41L78.67,301.91L79.20,301.41L79.72,300.91L80.24,300.39L80.77,299.87L81.29,299.33L81.81,298.79L82.34,298.24L82.86,297.69L83.38,297.12L83.91,296.55L84.43,295.97L84.95,295.38L85.48,294.77L86.00,294.12L86.53,293.42L87.05,292.70L87.57,291.94L88.10,291.17L88.62,290.38L89.14,289.58L89.67,288.77L90.19,287.97L90.71,287.18L91.24,286.39L91.76,285.63L92.28,284.90L92.81,284.19L93.33,283.53L93.86,282.90L94.38,282.33L94.90,281.77L95.43,281.19L95.95,280.60L96.47,280.00L97.00,279.40L97.52,278.83L98.04,278.27L98.57,277.75L99.09,277.28L99.61,276.85L100.14,276.49L100.66,276.20L101.18,275.99L101.71,275.87L102.23,275.86L102.76,275.93L103.28,276.09L103.80,276.32L104.33,276.61L104.85,276.96L105.37,277.35L105.90,277.78L106.42,278.24L106.94,278.71L107.47,279.19L107.99,279.66L108.51,280.13L109.04,280.66L109.56,281.26L110.09,281.91L110.61,282.61L111.13,283.35L111.66,284.12L112.18,284.90L112.70,285.70L113.23,286.50L113.75,287.29L114.27,288.07L114.80,288.81L115.32,289.55L115.84,290.30L116.37,291.05L116.89,291.81L117.41,292.58L117.94,293.35L118.46,294.12L118.99,294.89L119.51,295.67L120.03,296.44L120.56,297.21L121.08,297.98L121.60,298.74L122.13,299.50L122.65,300.26L123.17,301.00L123.70,301.74L124.22,302.46L124.74,303.18L125.27,303.88L125.79,304.58L126.32,305.28L126.84,305.98L127.36,306.67L127.89,307.35L128.41,308.01L128.93,308.64L129.46,309.24L129.98,309.80L130.50,310.33L131.03,310.84L131.55,311.35L132.07,311.84L132.60,312.32L133.12,312.78L133.64,313.23L134.17,313.67L134.69,314.09L135.22,314.50L135.74,314.90L136.26,315.28L136.79,315.64L137.31,315.99L137.83,316.32L138.36,316.63L138.88,316.91L139.40,317.18L139.93,317.43L140.45,317.68L140.97,317.93L141.50,318.18L142.02,318.43L142.55,318.69L143.07,318.95L143.59,319.21L144.12,319.47L144.64,319.73L145.16,319.99L145.69,320.26L146.21,320.52L146.73,320.77L147.26,321.03L147.78,321.28L148.30,321.53L148.83,321.78L149.35,322.02L149.87,322.25L150.40,322.48L150.92,322.71L151.45,322.92L151.97,323.13L152.49,323.33L153.02,323.52L153.54,323.71L154.06,323.88L154.59,324.04L155.11,324.20L155.63,324.37L156.16,324.53L156.68,324.70L157.20,324.86L157.73,325.03L158.25,325.19L158.78,325.36L159.30,325.52L159.82,325.68L160.35,325.83L160.87,325.98L161.39,326.13L161.92,326.28L162.44,326.42L162.96,326.55L163.49,326.68L164.01,326.80L164.53,326.91L165.06,327.02L165.58,327.11L166.10,327.20L166.63,327.28L167.15,327.35L167.68,327.41L168.20,327.45L168.72,327.49L169.25,327.51L169.77,327.52L170.29,327.52L170.82,327.50L171.34,327.46L171.86,327.40L172.39,327.33L172.91,327.24L173.43,327.14L173.96,327.03L174.48,326.90L175.01,326.77L175.53,326.62L176.05,326.47L176.58,326.31L177.10,326.14L177.62,325.97L178.15,325.79L178.67,325.61L179.19,325.43L179.72,325.24L180.24,325.06L180.76,324.87L181.29,324.69L181.81,324.51L182.33,324.33L182.86,324.16L183.38,323.99L183.91,323.83L184.43,323.68L184.95,323.54L185.48,323.41L186.00,323.28L186.52,323.15L187.05,323.03L187.57,322.90L188.09,322.78L188.62,322.66L189.14,322.54L189.66,322.42L190.19,322.30L190.71,322.18L191.24,322.06L191.76,321.95L192.28,321.83L192.81,321.71L193.33,321.60L193.85,321.48L194.38,321.37L194.90,321.25L195.42,321.13L195.95,321.02L196.47,320.90L196.99,320.79L197.52,320.67L198.04,320.55L198.56,320.43L199.09,320.31L199.61,320.20L200.14,320.08L200.66,319.96L201.18,319.83L201.71,319.70L202.23,319.55L202.75,319.40L203.28,319.24L203.80,319.08L204.32,318.92L204.85,318.75L205.37,318.59L205.89,318.43L206.42,318.28L206.94,318.13L207.47,318.00L207.99,317.88L208.51,317.78L209.04,317.69L209.56,317.62L210.08,317.57L210.61,317.55L211.13,317.55L211.65,317.58L212.18,317.64L212.70,317.73L213.22,317.84L213.75,317.98L214.27,318.13L214.80,318.30L215.32,318.49L215.84,318.68L216.37,318.89L216.89,319.09L217.41,319.31L217.94,319.52L218.46,319.73L218.98,319.93L219.51,320.13L220.03,320.32L220.55,320.49L221.08,320.65L221.60,320.79L222.12,320.91L222.65,321.00L223.17,321.07L223.70,321.13L224.22,321.18L224.74,321.24L225.27,321.29L225.79,321.34L226.31,321.40L226.84,321.45L227.36,321.50L227.88,321.55L228.41,321.59L228.93,321.64L229.45,321.68L229.98,321.73L230.50,321.77L231.03,321.81L231.55,321.85L232.07,321.89L232.60,321.92L233.12,321.96L233.64,321.99L234.17,322.02L234.69,322.05L235.21,322.08L235.74,322.10L236.26,322.12L236.78,322.15L237.31,322.17L237.83,322.18L238.35,322.20L238.88,322.21L239.40,322.22L239.93,322.23L240.45,322.24L240.97,322.24L241.50,322.24" fill="none" stroke="#2424c4" stroke-width="1.1"/>
<g fill="none" stroke="#d86a6a" stroke-width="0.95"><circle cx="36.08" cy="333.56" r="2.6"/><circle cx="40.46" cy="334.54" r="2.6"/><circle cx="44.84" cy="334.48" r="2.6"/><circle cx="49.22" cy="334.15" r="2.6"/><circle cx="53.59" cy="333.65" r="2.6"/><circle cx="57.97" cy="332.86" r="2.6"/><circle cx="62.35" cy="331.32" r="2.6"/><circle cx="66.73" cy="329.55" r="2.6"/><circle cx="71.11" cy="327.20" r="2.6"/><circle cx="75.48" cy="323.44" r="2.6"/><circle cx="79.86" cy="317.81" r="2.6"/><circle cx="84.24" cy="310.84" r="2.6"/><circle cx="88.62" cy="303.06" r="2.6"/><circle cx="93.00" cy="297.35" r="2.6"/><circle cx="97.38" cy="294.06" r="2.6"/><circle cx="101.75" cy="296.53" r="2.6"/><circle cx="106.13" cy="301.70" r="2.6"/><circle cx="110.51" cy="309.33" r="2.6"/><circle cx="114.89" cy="315.90" r="2.6"/><circle cx="119.27" cy="322.10" r="2.6"/><circle cx="123.64" cy="327.54" r="2.6"/><circle cx="128.02" cy="332.22" r="2.6"/><circle cx="132.40" cy="335.49" r="2.6"/><circle cx="136.78" cy="338.10" r="2.6"/><circle cx="141.16" cy="341.04" r="2.6"/><circle cx="145.53" cy="342.54" r="2.6"/><circle cx="149.91" cy="343.59" r="2.6"/><circle cx="154.29" cy="344.23" r="2.6"/><circle cx="158.67" cy="344.75" r="2.6"/><circle cx="163.05" cy="345.08" r="2.6"/><circle cx="167.42" cy="344.98" r="2.6"/><circle cx="171.80" cy="343.58" r="2.6"/><circle cx="176.18" cy="341.32" r="2.6"/><circle cx="180.56" cy="338.94" r="2.6"/><circle cx="184.94" cy="336.65" r="2.6"/><circle cx="189.32" cy="334.05" r="2.6"/><circle cx="193.69" cy="331.43" r="2.6"/><circle cx="198.07" cy="328.98" r="2.6"/><circle cx="202.45" cy="326.16" r="2.6"/><circle cx="206.83" cy="323.61" r="2.6"/><circle cx="211.21" cy="322.28" r="2.6"/><circle cx="215.58" cy="322.64" r="2.6"/><circle cx="219.96" cy="323.94" r="2.6"/><circle cx="224.34" cy="325.79" r="2.6"/><circle cx="228.72" cy="329.40" r="2.6"/><circle cx="233.10" cy="333.12" r="2.6"/><circle cx="237.47" cy="336.39" r="2.6"/></g>
<path d="M32.60,332.22L33.12,332.43L33.65,332.64L34.17,332.85L34.69,333.05L35.22,333.25L35.74,333.44L36.26,333.62L36.79,333.79L37.31,333.94L37.84,334.09L38.36,334.21L38.88,334.32L39.41,334.42L39.93,334.49L40.45,334.54L40.98,334.57L41.50,334.57L42.02,334.57L42.55,334.56L43.07,334.55L43.59,334.53L44.12,334.51L44.64,334.49L45.17,334.46L45.69,334.43L46.21,334.40L46.74,334.36L47.26,334.33L47.78,334.28L48.31,334.24L48.83,334.19L49.35,334.14L49.88,334.09L50.40,334.03L50.92,333.98L51.45,333.92L51.97,333.85L52.49,333.79L53.02,333.73L53.54,333.66L54.07,333.59L54.59,333.52L55.11,333.45L55.64,333.38L56.16,333.29L56.68,333.18L57.21,333.06L57.73,332.93L58.25,332.78L58.78,332.62L59.30,332.44L59.82,332.26L60.35,332.08L60.87,331.88L61.40,331.69L61.92,331.49L62.44,331.29L62.97,331.09L63.49,330.89L64.01,330.68L64.54,330.47L65.06,330.26L65.58,330.04L66.11,329.82L66.63,329.59L67.15,329.35L67.68,329.10L68.20,328.84L68.72,328.58L69.25,328.30L69.77,328.01L70.30,327.70L70.82,327.38L71.34,327.05L71.87,326.70L72.39,326.34L72.91,325.95L73.44,325.51L73.96,325.03L74.48,324.52L75.01,323.97L75.53,323.39L76.05,322.78L76.58,322.15L77.10,321.49L77.63,320.82L78.15,320.13L78.67,319.43L79.20,318.72L79.72,318.00L80.24,317.28L80.77,316.56L81.29,315.83L81.81,315.03L82.34,314.19L82.86,313.31L83.38,312.39L83.91,311.45L84.43,310.48L84.95,309.51L85.48,308.53L86.00,307.56L86.53,306.61L87.05,305.67L87.57,304.76L88.10,303.89L88.62,303.06L89.14,302.29L89.67,301.58L90.19,300.93L90.71,300.28L91.24,299.60L91.76,298.92L92.28,298.25L92.81,297.58L93.33,296.95L93.86,296.34L94.38,295.79L94.90,295.29L95.43,294.86L95.95,294.51L96.47,294.25L97.00,294.10L97.52,294.06L98.04,294.12L98.57,294.26L99.09,294.49L99.61,294.79L100.14,295.14L100.66,295.55L101.18,296.00L101.71,296.49L102.23,297.00L102.76,297.52L103.28,298.05L103.80,298.58L104.33,299.13L104.85,299.77L105.37,300.51L105.90,301.31L106.42,302.18L106.94,303.09L107.47,304.03L107.99,304.99L108.51,305.95L109.04,306.89L109.56,307.80L110.09,308.67L110.61,309.48L111.13,310.28L111.66,311.07L112.18,311.86L112.70,312.64L113.23,313.43L113.75,314.21L114.27,314.99L114.80,315.77L115.32,316.53L115.84,317.30L116.37,318.06L116.89,318.80L117.41,319.55L117.94,320.28L118.46,321.00L118.99,321.72L119.51,322.42L120.03,323.12L120.56,323.80L121.08,324.46L121.60,325.12L122.13,325.76L122.65,326.39L123.17,327.00L123.70,327.60L124.22,328.20L124.74,328.79L125.27,329.38L125.79,329.95L126.32,330.51L126.84,331.06L127.36,331.59L127.89,332.10L128.41,332.58L128.93,333.05L129.46,333.49L129.98,333.90L130.50,334.29L131.03,334.65L131.55,334.98L132.07,335.30L132.60,335.60L133.12,335.90L133.64,336.19L134.17,336.48L134.69,336.77L135.22,337.08L135.74,337.40L136.26,337.74L136.79,338.11L137.31,338.49L137.83,338.89L138.36,339.30L138.88,339.69L139.40,340.06L139.93,340.40L140.45,340.71L140.97,340.96L141.50,341.17L142.02,341.37L142.55,341.57L143.07,341.75L143.59,341.94L144.12,342.11L144.64,342.28L145.16,342.44L145.69,342.59L146.21,342.74L146.73,342.88L147.26,343.01L147.78,343.14L148.30,343.26L148.83,343.37L149.35,343.48L149.87,343.58L150.40,343.67L150.92,343.76L151.45,343.85L151.97,343.92L152.49,343.99L153.02,344.06L153.54,344.13L154.06,344.20L154.59,344.27L155.11,344.34L155.63,344.40L156.16,344.47L156.68,344.53L157.20,344.59L157.73,344.65L158.25,344.71L158.78,344.76L159.30,344.81L159.82,344.86L160.35,344.91L160.87,344.95L161.39,344.99L161.92,345.02L162.44,345.05L162.96,345.08L163.49,345.10L164.01,345.12L164.53,345.13L165.06,345.14L165.58,345.14L166.10,345.13L166.63,345.09L167.15,345.03L167.68,344.94L168.20,344.83L168.72,344.70L169.25,344.55L169.77,344.38L170.29,344.20L170.82,344.00L171.34,343.78L171.86,343.55L172.39,343.31L172.91,343.06L173.43,342.80L173.96,342.53L174.48,342.25L175.01,341.97L175.53,341.68L176.05,341.39L176.58,341.10L177.10,340.81L177.62,340.51L178.15,340.22L178.67,339.94L179.19,339.65L179.72,339.37L180.24,339.10L180.76,338.84L181.29,338.59L181.81,338.33L182.33,338.06L182.86,337.79L183.38,337.51L183.91,337.22L184.43,336.93L184.95,336.64L185.48,336.34L186.00,336.03L186.52,335.73L187.05,335.42L187.57,335.10L188.09,334.79L188.62,334.47L189.14,334.16L189.66,333.84L190.19,333.52L190.71,333.21L191.24,332.89L191.76,332.58L192.28,332.26L192.81,331.95L193.33,331.65L193.85,331.34L194.38,331.04L194.90,330.75L195.42,330.45L195.95,330.17L196.47,329.89L196.99,329.60L197.52,329.31L198.04,329.00L198.56,328.68L199.09,328.35L199.61,328.02L200.14,327.68L200.66,327.34L201.18,326.99L201.71,326.65L202.23,326.31L202.75,325.97L203.28,325.63L203.80,325.30L204.32,324.98L204.85,324.67L205.37,324.37L205.89,324.08L206.42,323.81L206.94,323.56L207.47,323.32L207.99,323.10L208.51,322.90L209.04,322.73L209.56,322.57L210.08,322.45L210.61,322.35L211.13,322.28L211.65,322.25L212.18,322.24L212.70,322.26L213.22,322.29L213.75,322.34L214.27,322.41L214.80,322.49L215.32,322.59L215.84,322.70L216.37,322.82L216.89,322.96L217.41,323.10L217.94,323.26L218.46,323.42L218.98,323.60L219.51,323.78L220.03,323.97L220.55,324.16L221.08,324.36L221.60,324.56L222.12,324.77L222.65,324.98L223.17,325.19L223.70,325.43L224.22,325.72L224.74,326.05L225.27,326.42L225.79,326.81L226.31,327.24L226.84,327.68L227.36,328.15L227.88,328.63L228.41,329.11L228.93,329.60L229.45,330.09L229.98,330.57L230.50,331.04L231.03,331.50L231.55,331.93L232.07,332.34L232.60,332.74L233.12,333.14L233.64,333.53L234.17,333.93L234.69,334.32L235.21,334.72L235.74,335.11L236.26,335.49L236.78,335.88L237.31,336.26L237.83,336.65L238.35,337.03L238.88,337.41L239.40,337.78L239.93,338.16L240.45,338.53L240.97,338.90L241.50,339.27" fill="none" stroke="#b02c2c" stroke-width="1.1"/>
<text x="67.72" y="365.00" font-size="9.5" text-anchor="middle" fill="#1e1e1e" >1.0</text>
<text x="111.24" y="365.00" font-size="9.5" text-anchor="middle" fill="#1e1e1e" >1.5</text>
<text x="154.76" y="365.00" font-size="9.5" text-anchor="middle" fill="#1e1e1e" >2.0</text>
<text x="198.28" y="365.00" font-size="9.5" text-anchor="middle" fill="#1e1e1e" >2.5</text>
<text x="241.80" y="365.00" font-size="9.5" text-anchor="middle" fill="#1e1e1e" >3.0</text>
<text x="28.00" y="355.20" font-size="9.5" text-anchor="end" fill="#1e1e1e" >0.0</text>
<text x="28.00" y="325.84" font-size="9.5" text-anchor="end" fill="#1e1e1e" >0.5</text>
<text x="28.00" y="296.48" font-size="9.5" text-anchor="end" fill="#1e1e1e" >1.0</text>
<text x="28.00" y="267.12" font-size="9.5" text-anchor="end" fill="#1e1e1e" >1.5</text>
<text x="28.00" y="237.76" font-size="9.5" text-anchor="end" fill="#1e1e1e" >2.0</text>
<text x="28.00" y="208.40" font-size="9.5" text-anchor="end" fill="#1e1e1e" >2.5</text>
<text x="137.20" y="382.20" font-size="10.5" text-anchor="middle" fill="#1e1e1e" >Frequency (GHz)</text>
<text transform="translate(8.8,276.5) rotate(-90)" font-size="10.9" text-anchor="middle" fill="#1e1e1e">FFT Intensity (n.u.)</text>
<text x="41.00" y="223.70" font-size="13.6" text-anchor="start" font-weight="bold" fill="#1e1e1e" >(c)</text>
<path d="M74.18,122.80L67.38,27.06 M89.72,110.37L84.75,18.18 M103.91,99.01L100.48,10.13 M55.62,41.49L114.87,9.82 M58.59,77.07L115.64,40.67 M61.36,110.27L116.36,69.78 M74.18,122.80L179.85,148.11 M89.72,110.37L191.64,133.24 M103.91,99.01L202.31,119.77 M116.93,88.60L212.02,107.51 M79.08,135.62L131.02,91.49 M102.32,141.45L151.60,95.59 M126.61,147.53L172.95,99.84 M152.02,153.90L195.14,104.25" stroke="#d2d2d2" stroke-width="0.9" fill="none"/>
<path d="M114.87,9.82L218.19,22.95 M115.64,40.67L215.74,56.21 M116.36,69.78L213.44,87.42" stroke="#e6e6e6" stroke-width="1" fill="none" stroke-dasharray="1.2,3.2"/>
<path d="M131.02,91.49L130.11,4.73 M151.60,95.59L152.54,7.43 M172.95,99.84L175.89,10.25 M195.14,104.25L200.23,13.19" stroke="#d9d9d9" stroke-width="1" fill="none" stroke-dasharray="1.2,3.2"/>
<path d="M54.94,33.42L114.69,2.87 M114.69,2.87L218.75,15.43 M116.84,88.67L114.69,2.87 M211.95,107.60L218.75,15.43 M63.15,131.63L116.84,88.67 M116.84,88.67L211.95,107.60" stroke="#ababab" stroke-width="0.9" fill="none"/>
<path d="M54.94,33.42L63.15,131.63 M63.15,131.63L171.41,158.76 M171.41,158.76L211.95,107.60" stroke="#333" stroke-width="1.3" fill="none" stroke-linejoin="miter"/>
<path d="M179.85,148.11L182.76,148.81 M191.64,133.24L194.43,133.87 M202.31,119.77L205.00,120.34" stroke="#333" stroke-width="1" fill="none"/>
<path d="M99.50,72.00L99.65,71.47L99.83,70.99L100.03,70.54L100.26,70.12L100.50,69.72L100.76,69.32L101.02,68.94L101.30,68.55L101.58,68.15L101.86,67.73L102.13,67.28L102.40,66.80L102.67,66.28L102.94,65.74L103.23,65.17L103.51,64.58L103.81,63.98L104.10,63.38L104.39,62.77L104.69,62.18L104.97,61.60L105.26,61.04L105.53,60.50L105.80,60.00L106.05,59.53L106.30,59.08L106.53,58.66L106.75,58.25L106.97,57.86L107.19,57.48L107.42,57.10L107.65,56.73L107.89,56.35L108.14,55.98L108.41,55.59L108.70,55.20L109.00,54.80L109.32,54.38L109.64,53.96L109.97,53.54L110.32,53.12L110.67,52.71L111.03,52.29L111.40,51.89L111.79,51.49L112.18,51.11L112.58,50.75L113.00,50.40L113.43,50.07L113.88,49.75L114.35,49.45L114.83,49.16L115.32,48.87L115.81,48.60L116.31,48.34L116.82,48.08L117.32,47.83L117.82,47.58L118.32,47.34L118.80,47.10L119.28,46.87L119.75,46.64L120.23,46.43L120.70,46.22L121.18,46.02L121.65,45.82L122.12,45.63L122.60,45.44L123.07,45.25L123.55,45.07L124.02,44.88L124.50,44.70L124.98,44.52L125.46,44.33L125.94,44.15L126.43,43.96L126.91,43.78L127.39,43.61L127.88,43.44L128.36,43.27L128.85,43.11L129.33,42.97L129.82,42.83L130.30,42.70L130.78,42.59L131.24,42.48L131.71,42.39L132.16,42.30L132.62,42.23L133.08,42.16L133.55,42.09L134.03,42.03L134.52,41.97L135.02,41.91L135.55,41.86L136.10,41.80L136.67,41.74L137.26,41.67L137.87,41.60L138.49,41.53L139.13,41.47L139.78,41.41L140.43,41.35L141.10,41.31L141.77,41.28L142.44,41.27L143.12,41.27L143.80,41.30L144.48,41.35L145.18,41.43L145.88,41.53L146.60,41.64L147.31,41.77L148.04,41.91L148.76,42.05L149.49,42.19L150.22,42.33L150.95,42.47L151.68,42.59L152.40,42.70L153.13,42.79L153.88,42.88L154.64,42.96L155.40,43.03L156.17,43.10L156.93,43.17L157.68,43.24L158.42,43.31L159.13,43.40L159.82,43.49L160.48,43.59L161.10,43.70L161.68,43.82L162.23,43.95L162.75,44.09L163.25,44.23L163.73,44.38L164.19,44.53L164.63,44.69L165.07,44.86L165.50,45.03L165.93,45.22L166.36,45.40L166.80,45.60L167.24,45.81L167.68,46.03L168.11,46.25L168.53,46.49L168.95,46.74L169.37,46.99L169.78,47.24L170.18,47.50L170.57,47.75L170.96,48.01L171.33,48.26L171.70,48.50L172.06,48.74L172.41,48.97L172.75,49.20L173.08,49.43L173.41,49.66L173.72,49.89L174.04,50.13L174.34,50.37L174.64,50.61L174.93,50.86L175.22,51.13L175.50,51.40L175.77,51.68L176.04,51.97L176.29,52.26L176.53,52.56L176.77,52.87L177.01,53.18L177.24,53.50L177.47,53.83L177.70,54.16L177.93,54.50L178.16,54.85L178.40,55.20L178.64,55.56L178.89,55.93L179.14,56.31L179.39,56.69L179.63,57.08L179.88,57.48L180.13,57.88L180.37,58.29L180.61,58.71L180.85,59.13L181.08,59.56L181.30,60.00L181.52,60.45L181.75,60.93L181.98,61.42L182.20,61.92L182.43,62.43L182.64,62.94L182.85,63.45L183.05,63.96L183.24,64.45L183.41,64.92L183.56,65.37L183.70,65.80L183.82,66.20L183.93,66.57L184.04,66.93L184.13,67.26L184.21,67.59L184.27,67.91L184.33,68.22L184.36,68.54L184.37,68.86L184.37,69.19L184.35,69.54L184.30,69.90L184.23,70.28L184.15,70.66L184.05,71.05L183.93,71.44L183.80,71.83L183.64,72.24L183.47,72.65L183.28,73.06L183.06,73.49L182.83,73.92L182.58,74.35L182.30,74.80L182.00,75.26L181.66,75.73L181.30,76.20L180.92,76.69L180.51,77.19L180.09,77.69L179.66,78.19L179.21,78.70L178.76,79.20L178.31,79.71L177.85,80.21L177.40,80.70L176.94,81.20L176.46,81.71L175.97,82.23L175.47,82.76L174.97,83.28L174.46,83.80L173.95,84.31L173.44,84.81L172.94,85.29L172.44,85.76L171.96,86.19L171.50,86.60L171.06,86.98L170.66,87.33L170.28,87.66L169.91,87.97L169.55,88.26L169.18,88.54L168.81,88.81L168.41,89.07L168.00,89.32L167.54,89.58L167.05,89.84L166.50,90.10L165.89,90.36L165.23,90.62L164.52,90.88L163.78,91.13L163.01,91.37L162.22,91.61L161.42,91.85L160.63,92.09L159.86,92.32L159.10,92.55L158.38,92.77L157.70,93.00L157.06,93.23L156.44,93.45L155.84,93.68L155.26,93.90L154.69,94.12L154.13,94.34L153.58,94.55L153.03,94.76L152.48,94.95L151.93,95.15L151.37,95.33L150.80,95.50L150.22,95.66L149.64,95.81L149.05,95.96L148.46,96.09L147.87,96.22L147.29,96.34L146.70,96.46L146.13,96.57L145.55,96.68L144.99,96.79L144.44,96.90L143.90,97.00L143.39,97.10L142.91,97.19L142.46,97.27L142.03,97.35L141.61,97.43L141.18,97.50L140.74,97.57L140.28,97.65L139.78,97.73L139.24,97.81L138.65,97.90L138.00,98.00L137.28,98.11L136.50,98.22L135.66,98.34L134.79,98.46L133.88,98.59L132.95,98.72L132.01,98.85L131.06,98.98L130.11,99.11L129.18,99.24L128.27,99.37L127.40,99.50L126.54,99.62L125.67,99.75L124.81,99.88L123.94,100.00L123.07,100.12L122.22,100.25L121.38,100.38L120.55,100.50L119.75,100.62L118.97,100.75L118.22,100.88L117.50,101.00L116.82,101.12L116.19,101.25L115.59,101.37L115.01,101.49L114.46,101.60L113.92,101.73L113.39,101.85L112.86,101.97L112.32,102.10L111.77,102.23L111.20,102.36L110.60,102.50L109.97,102.65L109.32,102.81L108.65,102.98L107.96,103.16L107.27,103.33L106.58,103.51L105.90,103.69L105.23,103.86L104.57,104.01L103.95,104.16L103.35,104.29L102.80,104.40L102.27,104.50L101.76,104.60L101.26,104.69L100.77,104.78L100.31,104.85L99.87,104.92L99.45,104.97L99.06,105.00L98.70,105.01L98.36,105.00L98.06,104.96L97.80,104.90L97.57,104.80L97.38,104.67L97.22,104.52L97.09,104.34L96.99,104.14L96.92,103.92L96.87,103.69L96.84,103.45L96.83,103.21L96.84,102.97L96.86,102.73L96.90,102.50L96.96,102.29L97.07,102.11L97.21,101.94L97.38,101.79L97.56,101.62L97.76,101.44L97.97,101.24L98.17,101.00L98.36,100.72L98.53,100.38L98.68,99.98L98.80,99.50L98.89,98.94L98.97,98.30L99.04,97.59L99.09,96.83L99.14,96.03L99.17,95.19L99.21,94.32L99.23,93.44L99.25,92.56L99.27,91.69L99.28,90.83L99.30,90.00L99.31,89.18L99.31,88.34L99.31,87.49L99.30,86.63L99.28,85.77L99.26,84.91L99.24,84.05L99.23,83.20L99.21,82.37L99.20,81.56L99.20,80.76L99.20,80.00L99.20,79.25L99.20,78.52L99.19,77.79L99.17,77.08L99.16,76.38L99.16,75.70L99.17,75.03L99.19,74.39L99.23,73.76L99.29,73.15L99.38,72.56L99.50,72.00Z" fill="none" stroke="#121212" stroke-width="1.15" stroke-linejoin="round"/>
<path d="M103.40,71.60L103.98,70.97L104.61,70.32L105.29,69.66L106.00,68.99L106.75,68.32L107.51,67.66L108.28,66.99L109.05,66.34L109.82,65.70L110.57,65.08L111.30,64.48L112.00,63.90L112.68,63.35L113.35,62.82L114.01,62.32L114.67,61.83L115.32,61.35L115.96,60.88L116.60,60.42L117.23,59.96L117.86,59.51L118.48,59.04L119.09,58.58L119.70,58.10L120.30,57.62L120.90,57.13L121.49,56.65L122.07,56.16L122.65,55.68L123.23,55.19L123.79,54.71L124.35,54.23L124.90,53.74L125.44,53.26L125.97,52.78L126.50,52.30L127.02,51.81L127.54,51.31L128.05,50.80L128.55,50.29L129.05,49.78L129.54,49.27L130.02,48.77L130.48,48.29L130.93,47.83L131.37,47.39L131.80,46.98L132.20,46.60L132.57,46.26L132.90,45.94L133.19,45.65L133.46,45.37L133.72,45.12L133.97,44.89L134.23,44.67L134.51,44.46L134.81,44.26L135.16,44.07L135.55,43.88L136.00,43.70L136.51,43.52L137.06,43.34L137.65,43.17L138.27,43.00L138.93,42.85L139.60,42.71L140.29,42.58L140.99,42.46L141.70,42.37L142.41,42.29L143.11,42.23L143.80,42.20L144.49,42.20L145.19,42.22L145.89,42.27L146.60,42.34L147.32,42.43L148.04,42.53L148.77,42.64L149.50,42.76L150.22,42.88L150.95,42.99L151.68,43.10L152.40,43.20L153.13,43.29L153.88,43.37L154.64,43.46L155.40,43.54L156.17,43.63L156.93,43.71L157.68,43.80L158.42,43.90L159.13,44.01L159.82,44.13L160.48,44.26L161.10,44.40L161.69,44.56L162.24,44.73L162.78,44.91L163.29,45.10L163.78,45.30L164.25,45.51L164.70,45.72L165.14,45.93L165.57,46.15L165.99,46.37L166.40,46.59L166.80,46.80L167.19,47.02L167.55,47.25L167.89,47.48L168.22,47.73L168.53,47.97L168.84,48.21L169.14,48.45L169.44,48.69L169.74,48.91L170.05,49.12L170.37,49.32L170.70,49.50L171.06,49.66L171.45,49.80L171.86,49.92L172.28,50.03L172.71,50.12L173.12,50.22L173.53,50.31L173.91,50.41L174.25,50.51L174.56,50.62L174.81,50.75L175.00,50.90L175.13,51.06L175.21,51.21L175.25,51.37L175.24,51.54L175.20,51.71L175.14,51.89L175.05,52.08L174.95,52.29L174.84,52.51L174.72,52.75L174.61,53.01L174.50,53.30L174.39,53.61L174.27,53.95L174.13,54.31L173.98,54.68L173.82,55.07L173.65,55.48L173.48,55.90L173.30,56.33L173.12,56.77L172.94,57.21L172.77,57.65L172.60,58.10L172.43,58.55L172.26,59.02L172.09,59.50L171.91,59.99L171.73,60.48L171.56,60.98L171.38,61.49L171.20,61.99L171.02,62.50L170.85,63.00L170.67,63.50L170.50,64.00L170.33,64.49L170.16,64.99L169.99,65.50L169.83,66.00L169.66,66.51L169.49,67.01L169.33,67.51L169.16,68.01L169.00,68.50L168.83,68.97L168.67,69.44L168.50,69.90L168.34,70.34L168.18,70.77L168.02,71.20L167.87,71.61L167.71,72.01L167.56,72.41L167.40,72.81L167.23,73.20L167.06,73.60L166.89,73.99L166.70,74.39L166.50,74.80L166.29,75.21L166.08,75.63L165.86,76.05L165.64,76.47L165.41,76.89L165.17,77.31L164.92,77.72L164.67,78.13L164.42,78.54L164.15,78.94L163.88,79.32L163.60,79.70L163.31,80.07L163.02,80.43L162.72,80.78L162.41,81.12L162.10,81.46L161.78,81.79L161.45,82.12L161.12,82.44L160.78,82.76L160.43,83.08L160.07,83.39L159.70,83.70L159.32,84.01L158.92,84.31L158.50,84.61L158.07,84.91L157.64,85.20L157.20,85.49L156.76,85.78L156.33,86.06L155.90,86.33L155.48,86.59L155.08,86.85L154.70,87.10L154.35,87.34L154.02,87.56L153.72,87.78L153.43,87.99L153.15,88.19L152.87,88.38L152.58,88.58L152.28,88.77L151.96,88.97L151.61,89.17L151.23,89.38L150.80,89.60L150.33,89.83L149.81,90.07L149.26,90.32L148.69,90.57L148.09,90.83L147.48,91.08L146.86,91.34L146.24,91.59L145.63,91.83L145.03,92.06L144.45,92.29L143.90,92.50L143.39,92.70L142.91,92.88L142.46,93.06L142.03,93.23L141.61,93.39L141.18,93.55L140.74,93.71L140.28,93.86L139.78,94.01L139.24,94.17L138.65,94.33L138.00,94.50L137.28,94.68L136.50,94.86L135.66,95.06L134.79,95.25L133.88,95.45L132.95,95.64L132.01,95.83L131.06,96.01L130.11,96.19L129.18,96.34L128.27,96.48L127.40,96.60L126.55,96.70L125.71,96.79L124.87,96.86L124.04,96.92L123.22,96.97L122.40,97.01L121.58,97.04L120.77,97.07L119.95,97.08L119.14,97.09L118.32,97.10L117.50,97.10L116.67,97.09L115.83,97.06L114.97,97.01L114.12,96.95L113.26,96.89L112.41,96.82L111.57,96.75L110.75,96.69L109.94,96.64L109.16,96.61L108.41,96.59L107.70,96.60L107.02,96.63L106.36,96.69L105.72,96.78L105.11,96.87L104.51,96.98L103.94,97.09L103.38,97.20L102.84,97.31L102.31,97.41L101.79,97.49L101.29,97.56L100.80,97.60L100.32,97.63L99.86,97.65L99.41,97.67L98.99,97.68L98.57,97.68L98.17,97.67L97.78,97.65L97.40,97.61L97.04,97.56L96.68,97.49L96.34,97.41L96.00,97.30L95.67,97.17L95.35,97.02L95.03,96.84L94.73,96.65L94.44,96.44L94.16,96.22L93.89,96.00L93.64,95.76L93.40,95.52L93.18,95.28L92.98,95.04L92.80,94.80L92.63,94.57L92.47,94.35L92.32,94.14L92.19,93.92L92.06,93.70L91.96,93.47L91.88,93.23L91.83,92.97L91.80,92.69L91.80,92.39L91.83,92.06L91.90,91.70L92.01,91.30L92.16,90.88L92.35,90.42L92.58,89.94L92.83,89.45L93.10,88.93L93.39,88.40L93.69,87.87L94.00,87.32L94.30,86.78L94.61,86.24L94.90,85.70L95.19,85.16L95.49,84.62L95.80,84.07L96.11,83.51L96.43,82.95L96.75,82.38L97.08,81.81L97.41,81.23L97.75,80.65L98.10,80.07L98.45,79.49L98.80,78.90L99.15,78.31L99.48,77.72L99.81,77.12L100.13,76.52L100.46,75.91L100.81,75.31L101.16,74.70L101.54,74.08L101.95,73.46L102.39,72.85L102.87,72.22L103.40,71.60Z" fill="none" stroke="#121212" stroke-width="1.15" stroke-linejoin="round"/>
<path d="M106.30,71.60L106.89,71.04L107.55,70.47L108.25,69.89L108.99,69.30L109.76,68.70L110.54,68.11L111.32,67.52L112.10,66.94L112.86,66.37L113.58,65.82L114.27,65.30L114.90,64.80L115.48,64.34L116.01,63.91L116.50,63.50L116.97,63.12L117.42,62.75L117.86,62.39L118.29,62.03L118.73,61.67L119.18,61.29L119.66,60.89L120.16,60.46L120.70,60.00L121.28,59.51L121.91,58.98L122.56,58.44L123.23,57.87L123.92,57.30L124.61,56.71L125.30,56.12L125.98,55.54L126.63,54.96L127.26,54.39L127.85,53.83L128.40,53.30L128.90,52.78L129.38,52.25L129.83,51.72L130.25,51.19L130.66,50.67L131.04,50.16L131.42,49.66L131.78,49.18L132.14,48.72L132.49,48.28L132.84,47.88L133.20,47.50L133.54,47.16L133.86,46.84L134.15,46.56L134.43,46.29L134.70,46.05L134.97,45.83L135.25,45.62L135.55,45.42L135.86,45.23L136.20,45.05L136.58,44.87L137.00,44.70L137.46,44.53L137.94,44.36L138.45,44.21L138.98,44.06L139.53,43.92L140.10,43.79L140.69,43.68L141.29,43.57L141.90,43.48L142.53,43.41L143.16,43.35L143.80,43.30L144.46,43.27L145.15,43.27L145.86,43.27L146.59,43.30L147.33,43.34L148.08,43.39L148.83,43.45L149.58,43.51L150.31,43.58L151.03,43.65L151.73,43.73L152.40,43.80L153.06,43.87L153.71,43.95L154.36,44.03L155.01,44.12L155.65,44.21L156.27,44.31L156.87,44.41L157.46,44.51L158.01,44.63L158.54,44.75L159.04,44.87L159.50,45.00L159.92,45.13L160.32,45.27L160.68,45.41L161.01,45.56L161.32,45.71L161.61,45.86L161.87,46.03L162.12,46.20L162.36,46.38L162.58,46.58L162.79,46.78L163.00,47.00L163.19,47.23L163.37,47.47L163.52,47.72L163.66,47.98L163.78,48.25L163.89,48.52L163.99,48.81L164.08,49.11L164.16,49.42L164.24,49.74L164.32,50.06L164.40,50.40L164.48,50.75L164.55,51.11L164.61,51.48L164.67,51.86L164.72,52.25L164.77,52.65L164.81,53.06L164.84,53.47L164.87,53.90L164.88,54.33L164.90,54.76L164.90,55.20L164.89,55.64L164.87,56.08L164.84,56.53L164.80,56.98L164.75,57.44L164.70,57.91L164.64,58.38L164.59,58.87L164.53,59.38L164.48,59.90L164.44,60.44L164.40,61.00L164.37,61.59L164.33,62.23L164.29,62.90L164.26,63.59L164.22,64.29L164.19,65.01L164.16,65.71L164.13,66.41L164.11,67.09L164.10,67.73L164.10,68.34L164.10,68.90L164.12,69.42L164.18,69.90L164.25,70.36L164.34,70.79L164.43,71.20L164.52,71.59L164.60,71.97L164.66,72.34L164.70,72.71L164.71,73.07L164.68,73.43L164.60,73.80L164.48,74.17L164.31,74.52L164.12,74.87L163.89,75.20L163.64,75.54L163.37,75.86L163.09,76.19L162.80,76.51L162.50,76.83L162.19,77.15L161.89,77.47L161.60,77.80L161.31,78.13L161.01,78.44L160.71,78.76L160.40,79.07L160.09,79.38L159.77,79.69L159.44,80.01L159.11,80.33L158.77,80.66L158.42,80.99L158.06,81.34L157.70,81.70L157.32,82.08L156.93,82.48L156.52,82.90L156.11,83.33L155.68,83.77L155.26,84.21L154.83,84.64L154.40,85.07L153.99,85.49L153.58,85.88L153.18,86.26L152.80,86.60L152.44,86.92L152.10,87.22L151.78,87.50L151.47,87.76L151.17,88.01L150.86,88.25L150.56,88.48L150.24,88.71L149.91,88.93L149.57,89.15L149.20,89.37L148.80,89.60L148.39,89.83L147.97,90.06L147.55,90.30L147.11,90.53L146.66,90.76L146.20,90.98L145.72,91.20L145.21,91.40L144.68,91.60L144.12,91.78L143.53,91.95L142.90,92.10L142.22,92.23L141.47,92.34L140.67,92.44L139.84,92.52L138.97,92.59L138.10,92.66L137.23,92.71L136.36,92.77L135.53,92.82L134.73,92.87L133.98,92.93L133.30,93.00L132.69,93.07L132.13,93.13L131.61,93.20L131.13,93.26L130.68,93.32L130.24,93.38L129.81,93.44L129.38,93.51L128.93,93.57L128.46,93.64L127.95,93.72L127.40,93.80L126.81,93.89L126.20,93.99L125.57,94.10L124.91,94.21L124.25,94.32L123.58,94.44L122.89,94.55L122.21,94.66L121.52,94.76L120.84,94.85L120.16,94.93L119.50,95.00L118.84,95.06L118.16,95.11L117.48,95.16L116.79,95.21L116.11,95.25L115.42,95.28L114.75,95.29L114.09,95.30L113.43,95.30L112.80,95.28L112.19,95.25L111.60,95.20L111.03,95.14L110.47,95.06L109.93,94.97L109.40,94.87L108.88,94.76L108.37,94.64L107.89,94.50L107.41,94.35L106.96,94.18L106.52,94.00L106.10,93.81L105.70,93.60L105.32,93.38L104.95,93.13L104.61,92.88L104.28,92.61L103.97,92.32L103.67,92.02L103.39,91.71L103.12,91.39L102.87,91.06L102.63,90.72L102.41,90.36L102.20,90.00L102.00,89.63L101.82,89.25L101.65,88.85L101.50,88.45L101.36,88.03L101.24,87.61L101.13,87.17L101.03,86.72L100.95,86.26L100.89,85.78L100.84,85.30L100.80,84.80L100.77,84.28L100.75,83.74L100.73,83.18L100.73,82.60L100.74,82.02L100.76,81.42L100.81,80.82L100.89,80.22L100.99,79.62L101.12,79.03L101.29,78.46L101.50,77.90L101.74,77.36L102.02,76.82L102.32,76.29L102.66,75.77L103.02,75.26L103.41,74.74L103.82,74.23L104.27,73.71L104.74,73.20L105.23,72.67L105.75,72.14L106.30,71.60Z" fill="none" stroke="#121212" stroke-width="1.15" stroke-linejoin="round"/>
<path d="M99.80,82.00L99.88,81.30L99.95,80.54L100.03,79.73L100.11,78.89L100.21,78.02L100.32,77.12L100.45,76.23L100.60,75.33L100.77,74.45L100.98,73.60L101.22,72.78L101.50,72.00L101.82,71.26L102.18,70.53L102.57,69.82L103.00,69.13L103.45,68.45L103.92,67.78L104.41,67.13L104.91,66.48L105.43,65.85L105.95,65.22L106.48,64.61L107.00,64.00L107.53,63.40L108.08,62.81L108.64,62.22L109.22,61.65L109.81,61.08L110.41,60.53L111.01,59.99L111.61,59.46L112.21,58.95L112.82,58.45L113.41,57.97L114.00,57.50L114.58,57.05L115.15,56.61L115.72,56.19L116.29,55.79L116.85,55.40L117.42,55.02L117.99,54.65L118.57,54.30L119.16,53.96L119.76,53.63L120.37,53.31L121.00,53.00L121.65,52.71L122.34,52.43L123.04,52.17L123.77,51.92L124.50,51.68L125.23,51.46L125.96,51.24L126.68,51.03L127.38,50.82L128.05,50.61L128.70,50.41L129.30,50.20L129.86,49.99L130.39,49.77L130.88,49.54L131.35,49.32L131.80,49.10L132.24,48.89L132.68,48.69L133.11,48.51L133.56,48.35L134.02,48.20L134.49,48.09L135.00,48.00L135.53,47.94L136.08,47.89L136.65,47.87L137.22,47.86L137.81,47.87L138.39,47.90L138.98,47.95L139.57,48.02L140.14,48.11L140.71,48.22L141.26,48.35L141.80,48.50L142.32,48.68L142.82,48.90L143.32,49.15L143.81,49.42L144.29,49.72L144.76,50.02L145.23,50.34L145.70,50.67L146.17,50.99L146.64,51.31L147.12,51.61L147.60,51.90L148.08,52.18L148.57,52.46L149.05,52.74L149.53,53.02L150.02,53.30L150.50,53.58L150.98,53.86L151.47,54.13L151.95,54.41L152.43,54.67L152.92,54.94L153.40,55.20L153.89,55.46L154.38,55.71L154.87,55.95L155.37,56.20L155.87,56.44L156.36,56.68L156.85,56.91L157.34,57.15L157.82,57.38L158.29,57.62L158.75,57.86L159.20,58.10L159.63,58.34L160.05,58.58L160.45,58.83L160.84,59.07L161.23,59.31L161.61,59.55L161.99,59.79L162.37,60.03L162.76,60.27L163.16,60.52L163.57,60.76L164.00,61.00L164.45,61.24L164.93,61.47L165.42,61.70L165.93,61.93L166.44,62.15L166.95,62.38L167.46,62.61L167.95,62.85L168.43,63.10L168.88,63.35L169.31,63.62L169.70,63.90L170.07,64.19L170.43,64.48L170.77,64.78L171.10,65.08L171.42,65.39L171.71,65.71L171.98,66.04L172.23,66.39L172.45,66.74L172.63,67.11L172.78,67.50L172.90,67.90L172.97,68.33L173.01,68.78L173.00,69.26L172.96,69.76L172.90,70.27L172.81,70.79L172.70,71.31L172.57,71.83L172.43,72.34L172.29,72.85L172.14,73.33L172.00,73.80L171.85,74.25L171.69,74.70L171.52,75.14L171.34,75.57L171.14,76.00L170.94,76.42L170.72,76.84L170.50,77.25L170.26,77.65L170.02,78.04L169.76,78.42L169.50,78.80L169.23,79.17L168.94,79.53L168.65,79.89L168.34,80.23L168.03,80.57L167.71,80.91L167.37,81.23L167.03,81.54L166.69,81.85L166.33,82.14L165.97,82.43L165.60,82.70L165.23,82.95L164.85,83.19L164.47,83.40L164.09,83.60L163.69,83.80L163.29,83.98L162.87,84.17L162.45,84.35L162.01,84.54L161.56,84.75L161.09,84.96L160.60,85.20L160.09,85.45L159.55,85.72L158.99,86.01L158.40,86.30L157.81,86.60L157.21,86.90L156.60,87.20L156.00,87.50L155.40,87.79L154.81,88.08L154.25,88.35L153.70,88.60L153.19,88.84L152.70,89.07L152.25,89.29L151.80,89.50L151.37,89.71L150.93,89.91L150.48,90.11L150.02,90.31L149.53,90.50L149.00,90.70L148.43,90.90L147.80,91.10L147.12,91.30L146.40,91.51L145.64,91.72L144.85,91.92L144.03,92.13L143.19,92.33L142.34,92.53L141.47,92.73L140.60,92.93L139.72,93.12L138.86,93.31L138.00,93.50L137.14,93.68L136.27,93.87L135.39,94.05L134.50,94.24L133.60,94.42L132.71,94.59L131.81,94.76L130.91,94.93L130.02,95.09L129.14,95.23L128.26,95.37L127.40,95.50L126.55,95.62L125.71,95.73L124.87,95.84L124.04,95.94L123.22,96.03L122.40,96.11L121.58,96.19L120.77,96.25L119.95,96.31L119.14,96.35L118.32,96.38L117.50,96.40L116.67,96.41L115.82,96.41L114.96,96.41L114.09,96.39L113.23,96.37L112.37,96.33L111.52,96.28L110.70,96.22L109.89,96.14L109.12,96.04L108.39,95.93L107.70,95.80L107.04,95.65L106.41,95.49L105.80,95.31L105.21,95.11L104.64,94.90L104.11,94.67L103.60,94.43L103.11,94.18L102.66,93.91L102.24,93.62L101.85,93.32L101.50,93.00L101.18,92.66L100.91,92.31L100.67,91.93L100.47,91.53L100.30,91.12L100.15,90.70L100.03,90.27L99.92,89.82L99.83,89.37L99.75,88.92L99.67,88.46L99.60,88.00L99.54,87.55L99.49,87.10L99.47,86.66L99.46,86.22L99.46,85.77L99.47,85.31L99.50,84.83L99.54,84.33L99.60,83.80L99.66,83.24L99.72,82.64L99.80,82.00Z" fill="none" stroke="#121212" stroke-width="1.15" stroke-linejoin="round"/>
<path d="M114.60,70.00L114.82,69.64L115.02,69.30L115.22,68.96L115.40,68.64L115.59,68.33L115.77,68.02L115.95,67.71L116.14,67.39L116.34,67.06L116.54,66.73L116.76,66.37L117.00,66.00L117.25,65.61L117.49,65.20L117.74,64.78L117.99,64.35L118.25,63.91L118.53,63.46L118.81,63.01L119.11,62.56L119.42,62.11L119.76,61.67L120.12,61.23L120.50,60.80L120.91,60.37L121.36,59.92L121.83,59.47L122.33,59.01L122.84,58.55L123.36,58.10L123.89,57.66L124.43,57.24L124.96,56.83L125.49,56.46L126.00,56.11L126.50,55.80L126.99,55.52L127.47,55.27L127.94,55.04L128.42,54.84L128.89,54.65L129.36,54.49L129.83,54.34L130.30,54.21L130.77,54.09L131.25,53.98L131.72,53.89L132.20,53.80L132.68,53.73L133.16,53.69L133.64,53.67L134.13,53.67L134.61,53.68L135.09,53.71L135.58,53.73L136.06,53.76L136.55,53.79L137.03,53.81L137.52,53.81L138.00,53.80L138.48,53.77L138.96,53.73L139.43,53.67L139.90,53.61L140.37,53.55L140.84,53.49L141.32,53.43L141.80,53.37L142.29,53.33L142.78,53.30L143.29,53.29L143.80,53.30L144.33,53.32L144.86,53.36L145.41,53.40L145.97,53.45L146.53,53.51L147.09,53.59L147.66,53.67L148.23,53.77L148.80,53.88L149.37,54.01L149.94,54.15L150.50,54.30L151.06,54.47L151.64,54.65L152.22,54.85L152.80,55.06L153.39,55.28L153.97,55.51L154.54,55.76L155.11,56.02L155.66,56.30L156.19,56.58L156.71,56.89L157.20,57.20L157.68,57.53L158.14,57.88L158.60,58.25L159.04,58.63L159.48,59.02L159.89,59.42L160.29,59.84L160.68,60.26L161.04,60.69L161.38,61.13L161.70,61.56L162.00,62.00L162.28,62.44L162.54,62.90L162.78,63.37L163.01,63.85L163.22,64.33L163.41,64.82L163.57,65.31L163.71,65.80L163.83,66.28L163.91,66.76L163.97,67.24L164.00,67.70L163.99,68.16L163.94,68.62L163.86,69.09L163.74,69.55L163.60,70.01L163.44,70.47L163.26,70.92L163.07,71.36L162.88,71.79L162.68,72.21L162.48,72.61L162.30,73.00L162.12,73.37L161.93,73.71L161.75,74.03L161.55,74.34L161.35,74.63L161.14,74.93L160.93,75.21L160.70,75.51L160.47,75.81L160.22,76.12L159.97,76.45L159.70,76.80L159.42,77.17L159.12,77.55L158.82,77.93L158.50,78.33L158.18,78.73L157.84,79.14L157.50,79.56L157.15,79.98L156.80,80.41L156.43,80.84L156.07,81.27L155.70,81.70L155.33,82.15L154.95,82.61L154.56,83.09L154.17,83.59L153.77,84.08L153.37,84.58L152.96,85.06L152.54,85.54L152.12,85.99L151.68,86.43L151.25,86.83L150.80,87.20L150.35,87.54L149.89,87.85L149.42,88.14L148.94,88.41L148.46,88.66L147.98,88.90L147.48,89.12L146.98,89.33L146.47,89.53L145.95,89.73L145.43,89.92L144.90,90.10L144.37,90.28L143.84,90.44L143.32,90.59L142.79,90.73L142.25,90.86L141.71,90.98L141.15,91.10L140.57,91.20L139.97,91.31L139.34,91.41L138.69,91.50L138.00,91.60L137.28,91.69L136.52,91.78L135.73,91.87L134.91,91.95L134.08,92.02L133.22,92.09L132.36,92.16L131.49,92.22L130.61,92.27L129.73,92.32L128.86,92.36L128.00,92.40L127.12,92.43L126.21,92.45L125.28,92.47L124.33,92.49L123.38,92.49L122.43,92.49L121.50,92.49L120.60,92.48L119.74,92.47L118.93,92.45L118.18,92.43L117.50,92.40L116.89,92.37L116.35,92.34L115.86,92.30L115.41,92.27L115.01,92.22L114.64,92.18L114.29,92.12L113.95,92.06L113.62,91.98L113.29,91.90L112.96,91.81L112.60,91.70L112.23,91.58L111.86,91.45L111.50,91.31L111.14,91.17L110.78,91.01L110.44,90.84L110.10,90.67L109.79,90.49L109.48,90.30L109.20,90.11L108.94,89.91L108.70,89.70L108.48,89.49L108.28,89.29L108.09,89.09L107.91,88.88L107.75,88.67L107.61,88.44L107.49,88.21L107.39,87.95L107.31,87.68L107.25,87.38L107.21,87.05L107.20,86.70L107.22,86.31L107.26,85.88L107.33,85.43L107.43,84.95L107.54,84.45L107.68,83.93L107.82,83.41L107.99,82.87L108.16,82.34L108.33,81.82L108.52,81.30L108.70,80.80L108.89,80.31L109.10,79.81L109.32,79.30L109.56,78.80L109.80,78.29L110.06,77.79L110.31,77.29L110.57,76.79L110.84,76.30L111.09,75.83L111.35,75.36L111.60,74.90L111.85,74.45L112.10,74.02L112.36,73.58L112.61,73.16L112.87,72.74L113.13,72.33L113.39,71.93L113.64,71.53L113.89,71.14L114.13,70.75L114.37,70.37L114.60,70.00Z" fill="none" stroke="#121212" stroke-width="1.15" stroke-linejoin="round"/>
<path d="M100.00,76.00L100.12,75.22L100.26,74.40L100.43,73.54L100.62,72.65L100.82,71.75L101.04,70.84L101.28,69.95L101.51,69.07L101.76,68.23L102.01,67.43L102.26,66.68L102.50,66.00L102.73,65.37L102.96,64.78L103.18,64.21L103.40,63.68L103.62,63.18L103.86,62.71L104.11,62.27L104.38,61.86L104.68,61.48L105.02,61.13L105.39,60.80L105.80,60.50L106.27,60.24L106.78,60.03L107.34,59.86L107.93,59.73L108.55,59.63L109.19,59.55L109.84,59.48L110.49,59.42L111.14,59.36L111.78,59.29L112.41,59.21L113.00,59.10L113.58,58.98L114.14,58.87L114.71,58.75L115.27,58.64L115.82,58.53L116.38,58.41L116.93,58.29L117.48,58.17L118.03,58.04L118.58,57.90L119.14,57.76L119.70,57.60L120.27,57.43L120.84,57.25L121.42,57.05L122.00,56.85L122.58,56.64L123.16,56.42L123.74,56.21L124.31,56.00L124.88,55.79L125.43,55.58L125.97,55.39L126.50,55.20L127.01,55.02L127.51,54.84L128.00,54.66L128.48,54.49L128.95,54.31L129.41,54.14L129.87,53.98L130.33,53.83L130.79,53.68L131.26,53.54L131.72,53.41L132.20,53.30L132.68,53.20L133.15,53.11L133.61,53.03L134.08,52.96L134.55,52.90L135.02,52.85L135.49,52.80L135.97,52.76L136.46,52.72L136.96,52.68L137.47,52.64L138.00,52.60L138.54,52.55L139.09,52.50L139.64,52.44L140.21,52.38L140.78,52.32L141.36,52.27L141.95,52.23L142.55,52.20L143.15,52.19L143.76,52.20L144.38,52.24L145.00,52.30L145.63,52.39L146.29,52.51L146.95,52.64L147.63,52.80L148.31,52.97L149.00,53.16L149.69,53.36L150.37,53.58L151.05,53.80L151.71,54.03L152.37,54.26L153.00,54.50L153.62,54.74L154.24,54.99L154.84,55.25L155.44,55.51L156.04,55.79L156.62,56.08L157.20,56.37L157.78,56.67L158.34,56.99L158.90,57.31L159.45,57.65L160.00,58.00L160.55,58.36L161.11,58.72L161.68,59.10L162.24,59.48L162.80,59.88L163.34,60.28L163.87,60.70L164.37,61.13L164.84,61.57L165.27,62.03L165.66,62.51L166.00,63.00L166.30,63.52L166.56,64.06L166.79,64.63L166.98,65.22L167.15,65.83L167.28,66.44L167.39,67.05L167.46,67.67L167.51,68.27L167.53,68.87L167.53,69.45L167.50,70.00L167.44,70.54L167.34,71.07L167.21,71.59L167.06,72.11L166.87,72.62L166.66,73.12L166.42,73.62L166.17,74.11L165.89,74.59L165.61,75.07L165.31,75.54L165.00,76.00L164.68,76.45L164.35,76.89L164.00,77.31L163.63,77.72L163.25,78.13L162.84,78.53L162.42,78.93L161.98,79.33L161.52,79.74L161.04,80.15L160.53,80.57L160.00,81.00L159.44,81.45L158.83,81.92L158.19,82.40L157.52,82.89L156.83,83.38L156.12,83.88L155.41,84.36L154.70,84.83L154.00,85.29L153.31,85.72L152.64,86.13L152.00,86.50L151.38,86.84L150.78,87.17L150.18,87.47L149.59,87.76L149.01,88.02L148.44,88.27L147.87,88.51L147.30,88.73L146.73,88.94L146.16,89.14L145.58,89.32L145.00,89.50L144.43,89.66L143.88,89.80L143.34,89.92L142.81,90.03L142.29,90.12L141.75,90.20L141.20,90.27L140.63,90.34L140.03,90.40L139.40,90.47L138.72,90.53L138.00,90.60L137.22,90.67L136.39,90.72L135.51,90.77L134.59,90.81L133.65,90.85L132.69,90.89L131.71,90.93L130.74,90.97L129.77,91.01L128.82,91.07L127.89,91.13L127.00,91.20L126.13,91.29L125.26,91.38L124.41,91.49L123.56,91.60L122.71,91.72L121.88,91.84L121.05,91.97L120.22,92.09L119.41,92.20L118.60,92.31L117.80,92.41L117.00,92.50L116.21,92.59L115.41,92.69L114.61,92.80L113.81,92.90L113.03,93.01L112.25,93.10L111.49,93.18L110.74,93.24L110.02,93.28L109.31,93.29L108.64,93.26L108.00,93.20L107.38,93.11L106.78,92.99L106.20,92.85L105.63,92.69L105.08,92.51L104.56,92.30L104.06,92.07L103.59,91.81L103.15,91.52L102.73,91.21L102.35,90.87L102.00,90.50L101.69,90.10L101.41,89.65L101.17,89.18L100.96,88.67L100.78,88.14L100.62,87.58L100.49,87.01L100.37,86.42L100.27,85.82L100.17,85.21L100.08,84.61L100.00,84.00L99.92,83.39L99.86,82.78L99.80,82.15L99.76,81.52L99.73,80.87L99.72,80.22L99.72,79.55L99.74,78.87L99.78,78.18L99.83,77.47L99.91,76.74L100.00,76.00Z" fill="none" stroke="#121212" stroke-width="1.15" stroke-linejoin="round"/>
<text x="183.25" y="152.71" font-size="8.9" text-anchor="start" fill="#1e1e1e" >-0.06</text>
<text x="195.04" y="137.84" font-size="8.9" text-anchor="start" fill="#1e1e1e" >-0.03</text>
<text x="205.71" y="124.37" font-size="8.9" text-anchor="start" fill="#1e1e1e" >0.00</text>
<text x="215.42" y="112.11" font-size="8.9" text-anchor="start" fill="#1e1e1e" >0.03</text>
<text x="70.08" y="146.22" font-size="8.9" text-anchor="middle" fill="#1e1e1e" >0.03</text>
<text x="93.32" y="152.05" font-size="8.9" text-anchor="middle" fill="#1e1e1e" >0.00</text>
<text x="117.61" y="158.13" font-size="8.9" text-anchor="middle" fill="#1e1e1e" >-0.03</text>
<text x="143.02" y="164.50" font-size="8.9" text-anchor="middle" fill="#1e1e1e" >-0.06</text>
<text x="53.62" y="45.39" font-size="8.9" text-anchor="end" fill="#1e1e1e" >-0.66</text>
<text x="56.59" y="80.37" font-size="8.9" text-anchor="end" fill="#1e1e1e" >-0.67</text>
<text x="59.36" y="113.27" font-size="8.9" text-anchor="end" fill="#1e1e1e" >-0.68</text>
<text transform="translate(33.6,85.5) rotate(-90)" font-size="10" text-anchor="middle" fill="#1e1e1e">M<tspan font-size="7.5" dy="2.5">z</tspan></text>
<text transform="translate(113,169.2) " font-size="10.5" text-anchor="middle" fill="#1e1e1e" font-style="italic">M<tspan font-size="7.5" dy="2.5">y</tspan></text>
<text transform="matrix(0.62,-0.78,0.97,0.24,223.5,136.3)" font-size="10.5" text-anchor="middle" fill="#1e1e1e" font-style="italic">M<tspan font-size="7.5" dy="2.5">x</tspan></text>
<text x="30.60" y="11.70" font-size="14.2" text-anchor="start" fill="#1e1e1e" style="stroke-width:0.35px">(a)</text>
</svg>
</body></html>
